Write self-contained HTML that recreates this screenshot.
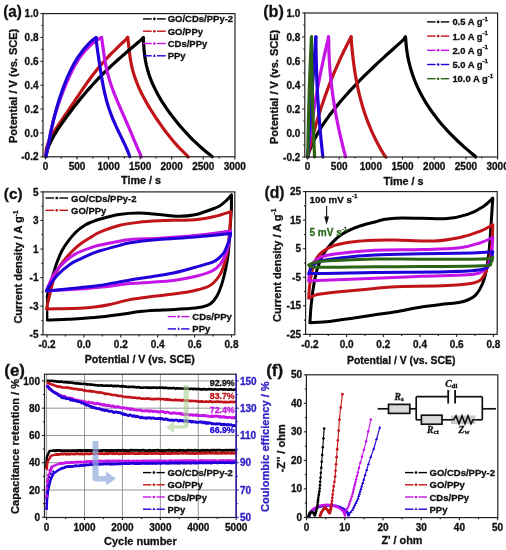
<!DOCTYPE html>
<html><head><meta charset="utf-8"><style>html,body{margin:0;padding:0;background:#fff}svg{display:block;filter:blur(0.35px)}</style></head><body>
<svg width="506" height="550" viewBox="0 0 506 550" font-family="'Liberation Sans', sans-serif" font-weight="bold">
<rect width="506" height="550" fill="#fff"/>
<polyline points="45.9,156.6 45.93,154.17 45.97,151.73 46.3,149.3 46.87,146.87 47.65,144.44 48.62,142 49.74,139.57 50.99,137.14 52.35,134.71 53.79,132.27 55.3,129.84 56.86,127.41 58.46,124.98 60.09,122.54 61.73,120.11 63.39,117.68 65.05,115.24 66.71,112.81 68.36,110.38 70.01,107.95 71.65,105.51 73.29,103.08 74.92,100.65 76.55,98.22 78.18,95.78 79.81,93.35 81.46,90.92 83.12,88.49 84.79,86.05 86.49,83.62 88.22,81.19 89.99,78.76 91.8,76.32 93.65,73.89 95.55,71.46 97.5,69.02 99.52,66.59 101.59,64.16 103.73,61.73 105.93,59.29 108.2,56.86 110.53,54.43 112.93,52 115.38,49.56 117.89,47.13 120.44,44.7 123.03,42.27 125.65,39.83 127.7,37.4" fill="none" stroke="#c01418" stroke-width="3.2" stroke-linejoin="round" stroke-linecap="round" />
<polyline points="127.7,37.4 128.03,39.84 128.32,42.27 128.6,44.71 128.86,47.15 129.13,49.58 129.41,52.02 129.72,54.46 130.05,56.89 130.43,59.33 130.85,61.77 131.33,64.2 131.85,66.64 132.44,69.08 133.08,71.51 133.79,73.95 134.56,76.39 135.39,78.82 136.28,81.26 137.23,83.7 138.24,86.13 139.32,88.57 140.44,91.01 141.62,93.44 142.86,95.88 144.14,98.32 145.47,100.76 146.84,103.19 148.26,105.63 149.72,108.07 151.22,110.5 152.75,112.94 154.32,115.38 155.92,117.81 157.56,120.25 159.24,122.69 160.95,125.12 162.7,127.56 164.49,130 166.32,132.43 168.21,134.87 170.14,137.31 172.14,139.74 174.21,142.18 176.35,144.62 178.58,147.05 180.9,149.49 183.34,151.93 185.9,154.36 188.3,156.8" fill="none" stroke="#c01418" stroke-width="3.2" stroke-linejoin="round" stroke-linecap="round" />
<polyline points="45.9,156.6 46.41,154.17 46.89,151.75 47.56,149.32 48.4,146.89 49.39,144.47 50.5,142.04 51.73,139.61 53.06,137.19 54.47,134.76 55.96,132.33 57.5,129.91 59.1,127.48 60.75,125.06 62.43,122.63 64.16,120.2 65.91,117.78 67.69,115.35 69.5,112.92 71.33,110.5 73.19,108.07 75.08,105.64 76.99,103.22 78.93,100.79 80.89,98.36 82.89,95.94 84.93,93.51 87,91.08 89.11,88.66 91.26,86.23 93.46,83.8 95.7,81.38 97.99,78.95 100.34,76.52 102.73,74.1 105.18,71.67 107.69,69.24 110.24,66.82 112.85,64.39 115.51,61.97 118.21,59.54 120.96,57.11 123.75,54.69 126.56,52.26 129.41,49.83 132.27,47.41 135.13,44.98 137.99,42.55 140.82,40.13 143.4,37.7" fill="none" stroke="#000" stroke-width="3.2" stroke-linejoin="round" stroke-linecap="round" />
<polyline points="143.2,37.5 143.36,39.93 143.51,42.37 143.67,44.8 143.85,47.24 144.05,49.67 144.29,52.11 144.58,54.54 144.91,56.98 145.29,59.41 145.73,61.85 146.22,64.28 146.78,66.72 147.41,69.15 148.1,71.59 148.85,74.02 149.68,76.46 150.57,78.89 151.53,81.32 152.56,83.76 153.66,86.19 154.82,88.63 156.05,91.06 157.34,93.5 158.69,95.93 160.1,98.37 161.57,100.8 163.11,103.24 164.69,105.67 166.34,108.11 168.03,110.54 169.79,112.98 171.59,115.41 173.45,117.84 175.37,120.28 177.34,122.71 179.36,125.15 181.45,127.58 183.59,130.02 185.8,132.45 188.08,134.89 190.42,137.32 192.84,139.76 195.35,142.19 197.94,144.63 200.63,147.06 203.43,149.5 206.34,151.93 209.37,154.37 212.3,156.8" fill="none" stroke="#000" stroke-width="3.2" stroke-linejoin="round" stroke-linecap="round" />
<polyline points="45.9,156.6 46.34,154.17 46.91,151.74 47.44,149.31 47.92,146.89 48.39,144.46 48.84,142.03 49.29,139.6 49.74,137.17 50.21,134.74 50.7,132.31 51.21,129.89 51.75,127.46 52.32,125.03 52.91,122.6 53.54,120.17 54.2,117.74 54.89,115.31 55.61,112.89 56.36,110.46 57.14,108.03 57.94,105.6 58.77,103.17 59.62,100.74 60.5,98.31 61.39,95.89 62.31,93.46 63.25,91.03 64.2,88.6 65.18,86.17 66.18,83.74 67.21,81.31 68.26,78.89 69.35,76.46 70.47,74.03 71.64,71.6 72.86,69.17 74.15,66.74 75.51,64.31 76.95,61.89 78.5,59.46 80.16,57.03 81.96,54.6 83.91,52.17 86.04,49.74 88.37,47.31 90.92,44.89 93.74,42.46 96.84,40.03 101.5,37.6" fill="none" stroke="#c614e6" stroke-width="3.2" stroke-linejoin="round" stroke-linecap="round" />
<polyline points="101.5,37.6 101.91,40.03 102.3,42.47 102.65,44.9 102.98,47.33 103.31,49.76 103.64,52.2 103.98,54.63 104.34,57.06 104.73,59.49 105.14,61.93 105.6,64.36 106.09,66.79 106.62,69.22 107.19,71.66 107.81,74.09 108.48,76.52 109.18,78.96 109.93,81.39 110.73,83.82 111.56,86.25 112.43,88.69 113.33,91.12 114.27,93.55 115.23,95.98 116.22,98.42 117.24,100.85 118.27,103.28 119.31,105.71 120.37,108.15 121.44,110.58 122.51,113.01 123.58,115.44 124.65,117.88 125.72,120.31 126.79,122.74 127.84,125.18 128.89,127.61 129.94,130.04 130.97,132.47 131.99,134.91 133.02,137.34 134.03,139.77 135.05,142.2 136.07,144.64 137.1,147.07 138.14,149.5 139.21,151.93 140.31,154.37 141.3,156.8" fill="none" stroke="#c614e6" stroke-width="3.2" stroke-linejoin="round" stroke-linecap="round" />
<polyline points="45.9,156.6 46.32,154.17 46.87,151.74 47.39,149.31 47.89,146.89 48.38,144.46 48.86,142.03 49.33,139.6 49.81,137.17 50.29,134.74 50.79,132.31 51.29,129.89 51.81,127.46 52.35,125.03 52.9,122.6 53.48,120.17 54.07,117.74 54.68,115.31 55.32,112.89 55.98,110.46 56.66,108.03 57.36,105.6 58.08,103.17 58.83,100.74 59.6,98.31 60.39,95.89 61.21,93.46 62.06,91.03 62.93,88.6 63.83,86.17 64.76,83.74 65.72,81.31 66.72,78.89 67.75,76.46 68.84,74.03 69.97,71.6 71.15,69.17 72.39,66.74 73.7,64.31 75.08,61.89 76.55,59.46 78.11,57.03 79.77,54.6 81.55,52.17 83.45,49.74 85.49,47.31 87.69,44.89 90.06,42.46 92.62,40.03 96,37.6" fill="none" stroke="#1e00d8" stroke-width="3.2" stroke-linejoin="round" stroke-linecap="round" />
<polyline points="96,37.6 96.21,40.03 96.49,42.47 96.79,44.9 97.11,47.33 97.45,49.76 97.8,52.2 98.15,54.63 98.51,57.06 98.87,59.49 99.23,61.93 99.6,64.36 99.97,66.79 100.35,69.22 100.73,71.66 101.11,74.09 101.51,76.52 101.92,78.96 102.35,81.39 102.79,83.82 103.25,86.25 103.74,88.69 104.25,91.12 104.8,93.55 105.38,95.98 105.99,98.42 106.64,100.85 107.34,103.28 108.07,105.71 108.85,108.15 109.67,110.58 110.54,113.01 111.46,115.44 112.41,117.88 113.42,120.31 114.46,122.74 115.54,125.18 116.65,127.61 117.8,130.04 118.96,132.47 120.15,134.91 121.34,137.34 122.53,139.77 123.71,142.2 124.87,144.64 125.99,147.07 127.06,149.5 128.07,151.93 129,154.37 129.8,156.8" fill="none" stroke="#1e00d8" stroke-width="3.2" stroke-linejoin="round" stroke-linecap="round" />
<rect x="43" y="13.6" width="192" height="143.2" fill="none" stroke="#222" stroke-width="1.2"/>
<line x1="45.5" y1="156.8" x2="45.5" y2="159.4" stroke="#222" stroke-width="1.1"/>
<line x1="77.05" y1="156.8" x2="77.05" y2="159.4" stroke="#222" stroke-width="1.1"/>
<line x1="108.6" y1="156.8" x2="108.6" y2="159.4" stroke="#222" stroke-width="1.1"/>
<line x1="140.15" y1="156.8" x2="140.15" y2="159.4" stroke="#222" stroke-width="1.1"/>
<line x1="171.7" y1="156.8" x2="171.7" y2="159.4" stroke="#222" stroke-width="1.1"/>
<line x1="203.25" y1="156.8" x2="203.25" y2="159.4" stroke="#222" stroke-width="1.1"/>
<line x1="234.8" y1="156.8" x2="234.8" y2="159.4" stroke="#222" stroke-width="1.1"/>
<line x1="61.27" y1="156.8" x2="61.27" y2="158.4" stroke="#222" stroke-width="1.1"/>
<line x1="92.83" y1="156.8" x2="92.83" y2="158.4" stroke="#222" stroke-width="1.1"/>
<line x1="124.38" y1="156.8" x2="124.38" y2="158.4" stroke="#222" stroke-width="1.1"/>
<line x1="155.93" y1="156.8" x2="155.93" y2="158.4" stroke="#222" stroke-width="1.1"/>
<line x1="187.47" y1="156.8" x2="187.47" y2="158.4" stroke="#222" stroke-width="1.1"/>
<line x1="219.03" y1="156.8" x2="219.03" y2="158.4" stroke="#222" stroke-width="1.1"/>
<text x="45.5" y="169.8" font-size="10" text-anchor="middle" fill="#111"  stroke="#111" stroke-width="0.3">0</text>
<text x="77.05" y="169.8" font-size="10" text-anchor="middle" fill="#111"  stroke="#111" stroke-width="0.3">500</text>
<text x="108.6" y="169.8" font-size="10" text-anchor="middle" fill="#111"  stroke="#111" stroke-width="0.3">1000</text>
<text x="140.15" y="169.8" font-size="10" text-anchor="middle" fill="#111"  stroke="#111" stroke-width="0.3">1500</text>
<text x="171.7" y="169.8" font-size="10" text-anchor="middle" fill="#111"  stroke="#111" stroke-width="0.3">2000</text>
<text x="203.25" y="169.8" font-size="10" text-anchor="middle" fill="#111"  stroke="#111" stroke-width="0.3">2500</text>
<text x="234.8" y="169.8" font-size="10" text-anchor="middle" fill="#111"  stroke="#111" stroke-width="0.3">3000</text>
<line x1="43" y1="156.8" x2="40.4" y2="156.8" stroke="#222" stroke-width="1.1"/>
<line x1="43" y1="132.93" x2="40.4" y2="132.93" stroke="#222" stroke-width="1.1"/>
<line x1="43" y1="109.07" x2="40.4" y2="109.07" stroke="#222" stroke-width="1.1"/>
<line x1="43" y1="85.2" x2="40.4" y2="85.2" stroke="#222" stroke-width="1.1"/>
<line x1="43" y1="61.33" x2="40.4" y2="61.33" stroke="#222" stroke-width="1.1"/>
<line x1="43" y1="37.47" x2="40.4" y2="37.47" stroke="#222" stroke-width="1.1"/>
<line x1="43" y1="13.6" x2="40.4" y2="13.6" stroke="#222" stroke-width="1.1"/>
<line x1="43" y1="144.87" x2="41.4" y2="144.87" stroke="#222" stroke-width="1.1"/>
<line x1="43" y1="121" x2="41.4" y2="121" stroke="#222" stroke-width="1.1"/>
<line x1="43" y1="97.13" x2="41.4" y2="97.13" stroke="#222" stroke-width="1.1"/>
<line x1="43" y1="73.27" x2="41.4" y2="73.27" stroke="#222" stroke-width="1.1"/>
<line x1="43" y1="49.4" x2="41.4" y2="49.4" stroke="#222" stroke-width="1.1"/>
<line x1="43" y1="25.53" x2="41.4" y2="25.53" stroke="#222" stroke-width="1.1"/>
<text x="38.5" y="160.4" font-size="10" text-anchor="end" fill="#111"  stroke="#111" stroke-width="0.3">-0.2</text>
<text x="38.5" y="136.53" font-size="10" text-anchor="end" fill="#111"  stroke="#111" stroke-width="0.3">0.0</text>
<text x="38.5" y="112.67" font-size="10" text-anchor="end" fill="#111"  stroke="#111" stroke-width="0.3">0.2</text>
<text x="38.5" y="88.8" font-size="10" text-anchor="end" fill="#111"  stroke="#111" stroke-width="0.3">0.4</text>
<text x="38.5" y="64.93" font-size="10" text-anchor="end" fill="#111"  stroke="#111" stroke-width="0.3">0.6</text>
<text x="38.5" y="41.07" font-size="10" text-anchor="end" fill="#111"  stroke="#111" stroke-width="0.3">0.8</text>
<text x="38.5" y="17.2" font-size="10" text-anchor="end" fill="#111"  stroke="#111" stroke-width="0.3">1.0</text>
<text x="141.1" y="183.6" font-size="10.8" text-anchor="middle" fill="#111"  stroke="#111" stroke-width="0.3">Time / s</text>
<text x="16.8" y="85.9" font-size="11" text-anchor="middle" fill="#111" transform="rotate(-90 16.8 85.9)"  stroke="#111" stroke-width="0.3">Potential / V (vs. SCE)</text>
<text x="0" y="0" font-size="16.96" transform="translate(3.14 17.01) scale(0.898 1)" fill="#111" stroke="#111" stroke-width="0.3">(a)</text>
<line x1="143" y1="18.9" x2="151.75" y2="18.9" stroke="#000" stroke-width="1.4"/>
<line x1="156.95" y1="18.9" x2="165.7" y2="18.9" stroke="#000" stroke-width="1.4"/>
<circle cx="154.35" cy="18.9" r="1.3" fill="#000"/>
<text x="167.7" y="22.4" font-size="9.5" text-anchor="start" fill="#111"  stroke="#111" stroke-width="0.3">GO/CDs/PPy-2</text>
<line x1="143" y1="31.2" x2="151.75" y2="31.2" stroke="#c01418" stroke-width="1.4"/>
<line x1="156.95" y1="31.2" x2="165.7" y2="31.2" stroke="#c01418" stroke-width="1.4"/>
<circle cx="154.35" cy="31.2" r="1.3" fill="#c01418"/>
<text x="167.7" y="34.7" font-size="9.5" text-anchor="start" fill="#111"  stroke="#111" stroke-width="0.3">GO/PPy</text>
<line x1="143" y1="43.5" x2="151.75" y2="43.5" stroke="#c614e6" stroke-width="1.4"/>
<line x1="156.95" y1="43.5" x2="165.7" y2="43.5" stroke="#c614e6" stroke-width="1.4"/>
<circle cx="154.35" cy="43.5" r="1.3" fill="#c614e6"/>
<text x="167.7" y="47" font-size="9.5" text-anchor="start" fill="#111"  stroke="#111" stroke-width="0.3">CDs/PPy</text>
<line x1="143" y1="55.8" x2="151.75" y2="55.8" stroke="#1e00d8" stroke-width="1.4"/>
<line x1="156.95" y1="55.8" x2="165.7" y2="55.8" stroke="#1e00d8" stroke-width="1.4"/>
<path d="M154.35,54.1 l1.5,2.6 h-3z" fill="#1e00d8"/>
<text x="167.7" y="59.3" font-size="9.5" text-anchor="start" fill="#111"  stroke="#111" stroke-width="0.3">PPy</text>
<polyline points="307.6,157 308.06,154.97 308.72,152.93 309.43,150.9 310.19,148.86 311.01,146.83 311.88,144.8 312.79,142.76 313.76,140.73 314.77,138.69 315.83,136.66 316.93,134.63 318.08,132.59 319.28,130.56 320.51,128.53 321.79,126.49 323.11,124.46 324.47,122.42 325.87,120.39 327.3,118.36 328.78,116.32 330.28,114.29 331.83,112.25 333.4,110.22 335.01,108.19 336.66,106.15 338.33,104.12 340.03,102.08 341.76,100.05 343.52,98.02 345.31,95.98 347.13,93.95 348.97,91.92 350.83,89.88 352.72,87.85 354.64,85.81 356.58,83.78 358.55,81.75 360.54,79.71 362.55,77.68 364.59,75.64 366.66,73.61 368.74,71.58 370.85,69.54 372.98,67.51 375.13,65.47 377.3,63.44 379.49,61.41 381.7,59.37 383.93,57.34 386.17,55.31 388.41,53.27 390.67,51.24 392.93,49.2 395.19,47.17 397.46,45.14 399.73,43.1 401.99,41.07 404.24,39.03 405.3,37" fill="none" stroke="#000" stroke-width="3.2" stroke-linejoin="round" stroke-linecap="round" />
<polyline points="405.3,37 405.74,39.03 405.86,41.07 406.01,43.1 406.19,45.14 406.4,47.17 406.65,49.2 406.92,51.24 407.23,53.27 407.57,55.31 407.95,57.34 408.36,59.37 408.8,61.41 409.28,63.44 409.79,65.47 410.34,67.51 410.93,69.54 411.55,71.58 412.2,73.61 412.9,75.64 413.63,77.68 414.4,79.71 415.21,81.75 416.06,83.78 416.95,85.81 417.88,87.85 418.85,89.88 419.86,91.92 420.91,93.95 422,95.98 423.13,98.02 424.31,100.05 425.53,102.08 426.79,104.12 428.09,106.15 429.44,108.19 430.84,110.22 432.28,112.25 433.76,114.29 435.3,116.32 436.87,118.36 438.5,120.39 440.17,122.42 441.89,124.46 443.65,126.49 445.47,128.53 447.33,130.56 449.24,132.59 451.21,134.63 453.22,136.66 455.28,138.69 457.4,140.73 459.57,142.76 461.78,144.8 464.05,146.83 466.38,148.86 468.75,150.9 471.18,152.93 473.67,154.97 475.8,157" fill="none" stroke="#000" stroke-width="3.2" stroke-linejoin="round" stroke-linecap="round" />
<polyline points="307.6,157 308.04,154.96 308.52,152.93 309,150.89 309.49,148.85 309.99,146.81 310.5,144.78 311.01,142.74 311.54,140.7 312.07,138.66 312.6,136.63 313.15,134.59 313.7,132.55 314.27,130.52 314.84,128.48 315.42,126.44 316,124.4 316.6,122.37 317.21,120.33 317.82,118.29 318.44,116.25 319.08,114.22 319.72,112.18 320.37,110.14 321.03,108.11 321.7,106.07 322.38,104.03 323.07,101.99 323.77,99.96 324.48,97.92 325.2,95.88 325.94,93.84 326.68,91.81 327.43,89.77 328.19,87.73 328.97,85.69 329.75,83.66 330.55,81.62 331.36,79.58 332.18,77.55 333.01,75.51 333.85,73.47 334.71,71.43 335.57,69.4 336.45,67.36 337.34,65.32 338.24,63.28 339.16,61.25 340.08,59.21 341.02,57.17 341.97,55.14 342.94,53.1 343.92,51.06 344.91,49.02 345.91,46.99 346.93,44.95 347.96,42.91 349,40.87 350.06,38.84 351.2,36.8" fill="none" stroke="#c01418" stroke-width="3.2" stroke-linejoin="round" stroke-linecap="round" />
<polyline points="351.2,36.8 351.17,38.84 351.34,40.87 351.51,42.91 351.68,44.95 351.87,46.99 352.06,49.02 352.26,51.06 352.47,53.1 352.69,55.14 352.92,57.17 353.16,59.21 353.41,61.25 353.67,63.28 353.94,65.32 354.22,67.36 354.51,69.4 354.82,71.43 355.14,73.47 355.48,75.51 355.83,77.55 356.19,79.58 356.57,81.62 356.97,83.66 357.38,85.69 357.8,87.73 358.25,89.77 358.71,91.81 359.19,93.84 359.69,95.88 360.2,97.92 360.74,99.96 361.29,101.99 361.87,104.03 362.46,106.07 363.08,108.11 363.72,110.14 364.38,112.18 365.06,114.22 365.77,116.25 366.5,118.29 367.25,120.33 368.03,122.37 368.83,124.4 369.66,126.44 370.51,128.48 371.39,130.52 372.3,132.55 373.23,134.59 374.19,136.63 375.18,138.66 376.19,140.7 377.24,142.74 378.31,144.78 379.42,146.81 380.55,148.85 381.72,150.89 382.91,152.93 384.14,154.96 385.7,157" fill="none" stroke="#c01418" stroke-width="3.2" stroke-linejoin="round" stroke-linecap="round" />
<polyline points="307.6,157 307.9,154.96 308.11,152.93 308.34,150.89 308.56,148.85 308.8,146.81 309.03,144.78 309.28,142.74 309.52,140.7 309.78,138.66 310.03,136.63 310.3,134.59 310.56,132.55 310.84,130.52 311.11,128.48 311.4,126.44 311.69,124.4 311.98,122.37 312.27,120.33 312.58,118.29 312.88,116.25 313.2,114.22 313.51,112.18 313.84,110.14 314.16,108.11 314.5,106.07 314.83,104.03 315.17,101.99 315.52,99.96 315.87,97.92 316.23,95.88 316.59,93.84 316.96,91.81 317.33,89.77 317.7,87.73 318.08,85.69 318.47,83.66 318.86,81.62 319.26,79.58 319.66,77.55 320.06,75.51 320.47,73.47 320.89,71.43 321.31,69.4 321.73,67.36 322.16,65.32 322.59,63.28 323.03,61.25 323.48,59.21 323.93,57.17 324.38,55.14 324.84,53.1 325.3,51.06 325.77,49.02 326.24,46.99 326.72,44.95 327.2,42.91 327.69,40.87 328.18,38.84 328.5,36.8" fill="none" stroke="#c614e6" stroke-width="3.2" stroke-linejoin="round" stroke-linecap="round" />
<polyline points="328.5,36.8 328.68,38.84 328.7,40.87 328.72,42.91 328.75,44.95 328.8,46.99 328.85,49.02 328.91,51.06 328.99,53.1 329.07,55.14 329.17,57.17 329.27,59.21 329.39,61.25 329.51,63.28 329.65,65.32 329.8,67.36 329.95,69.4 330.12,71.43 330.29,73.47 330.48,75.51 330.68,77.55 330.88,79.58 331.1,81.62 331.32,83.66 331.56,85.69 331.8,87.73 332.06,89.77 332.32,91.81 332.6,93.84 332.88,95.88 333.17,97.92 333.47,99.96 333.79,101.99 334.11,104.03 334.44,106.07 334.78,108.11 335.13,110.14 335.49,112.18 335.86,114.22 336.23,116.25 336.62,118.29 337.02,120.33 337.42,122.37 337.84,124.4 338.26,126.44 338.69,128.48 339.13,130.52 339.58,132.55 340.04,134.59 340.51,136.63 340.99,138.66 341.47,140.7 341.97,142.74 342.47,144.78 342.98,146.81 343.5,148.85 344.03,150.89 344.57,152.93 345.12,154.96 345.5,157" fill="none" stroke="#c614e6" stroke-width="3.2" stroke-linejoin="round" stroke-linecap="round" />
<polyline points="307.8,157 308.05,154.55 308.2,152.09 308.36,149.64 308.51,147.19 308.67,144.73 308.83,142.28 308.98,139.83 309.14,137.38 309.3,134.92 309.46,132.47 309.62,130.02 309.77,127.56 309.93,125.11 310.09,122.66 310.25,120.2 310.41,117.75 310.57,115.3 310.73,112.84 310.89,110.39 311.05,107.94 311.21,105.49 311.37,103.03 311.53,100.58 311.7,98.13 311.86,95.67 312.02,93.22 312.18,90.77 312.34,88.31 312.51,85.86 312.67,83.41 312.83,80.96 313,78.5 313.16,76.05 313.32,73.6 313.49,71.14 313.65,68.69 313.82,66.24 313.98,63.78 314.15,61.33 314.31,58.88 314.48,56.42 314.65,53.97 314.81,51.52 314.98,49.07 315.15,46.61 315.31,44.16 315.48,41.71 315.65,39.25 315.9,36.8" fill="none" stroke="#1e00d8" stroke-width="3.2" stroke-linejoin="round" stroke-linecap="round" />
<polyline points="315.9,36.8 315.89,39.25 315.91,41.71 315.93,44.16 315.96,46.61 316,49.07 316.04,51.52 316.08,53.97 316.13,56.42 316.19,58.88 316.25,61.33 316.31,63.78 316.39,66.24 316.46,68.69 316.55,71.14 316.63,73.6 316.73,76.05 316.83,78.5 316.93,80.96 317.04,83.41 317.16,85.86 317.28,88.31 317.41,90.77 317.54,93.22 317.67,95.67 317.82,98.13 317.97,100.58 318.12,103.03 318.28,105.49 318.44,107.94 318.61,110.39 318.79,112.84 318.97,115.3 319.16,117.75 319.35,120.2 319.55,122.66 319.75,125.11 319.96,127.56 320.17,130.02 320.39,132.47 320.62,134.92 320.85,137.38 321.08,139.83 321.32,142.28 321.57,144.73 321.82,147.19 322.08,149.64 322.34,152.09 322.61,154.55 322.8,157" fill="none" stroke="#1e00d8" stroke-width="3.2" stroke-linejoin="round" stroke-linecap="round" />
<polyline points="307.8,157 307.84,154.55 307.87,152.09 307.91,149.64 307.94,147.19 307.98,144.73 308.02,142.28 308.06,139.83 308.1,137.38 308.15,134.92 308.2,132.47 308.25,130.02 308.3,127.56 308.35,125.11 308.4,122.66 308.46,120.2 308.52,117.75 308.58,115.3 308.64,112.84 308.7,110.39 308.77,107.94 308.84,105.49 308.91,103.03 308.98,100.58 309.05,98.13 309.13,95.67 309.2,93.22 309.28,90.77 309.36,88.31 309.45,85.86 309.53,83.41 309.62,80.96 309.71,78.5 309.8,76.05 309.89,73.6 309.98,71.14 310.08,68.69 310.17,66.24 310.27,63.78 310.38,61.33 310.48,58.88 310.58,56.42 310.69,53.97 310.8,51.52 310.91,49.07 311.02,46.61 311.14,44.16 311.26,41.71 311.37,39.25 311.5,36.8" fill="none" stroke="#2a6414" stroke-width="3.2" stroke-linejoin="round" stroke-linecap="round" />
<polyline points="311.5,36.8 311.48,39.25 311.5,41.71 311.52,44.16 311.55,46.61 311.57,49.07 311.6,51.52 311.63,53.97 311.66,56.42 311.69,58.88 311.73,61.33 311.76,63.78 311.8,66.24 311.84,68.69 311.88,71.14 311.93,73.6 311.98,76.05 312.02,78.5 312.07,80.96 312.13,83.41 312.18,85.86 312.24,88.31 312.29,90.77 312.35,93.22 312.42,95.67 312.48,98.13 312.54,100.58 312.61,103.03 312.68,105.49 312.75,107.94 312.82,110.39 312.9,112.84 312.98,115.3 313.06,117.75 313.14,120.2 313.22,122.66 313.3,125.11 313.39,127.56 313.48,130.02 313.57,132.47 313.66,134.92 313.76,137.38 313.85,139.83 313.95,142.28 314.05,144.73 314.15,147.19 314.25,149.64 314.36,152.09 314.47,154.55 314.5,157" fill="none" stroke="#2a6414" stroke-width="3.2" stroke-linejoin="round" stroke-linecap="round" />
<rect x="304.8" y="13" width="192.8" height="144" fill="none" stroke="#222" stroke-width="1.2"/>
<line x1="307.5" y1="157" x2="307.5" y2="159.6" stroke="#222" stroke-width="1.1"/>
<line x1="339.18" y1="157" x2="339.18" y2="159.6" stroke="#222" stroke-width="1.1"/>
<line x1="370.87" y1="157" x2="370.87" y2="159.6" stroke="#222" stroke-width="1.1"/>
<line x1="402.55" y1="157" x2="402.55" y2="159.6" stroke="#222" stroke-width="1.1"/>
<line x1="434.23" y1="157" x2="434.23" y2="159.6" stroke="#222" stroke-width="1.1"/>
<line x1="465.92" y1="157" x2="465.92" y2="159.6" stroke="#222" stroke-width="1.1"/>
<line x1="497.6" y1="157" x2="497.6" y2="159.6" stroke="#222" stroke-width="1.1"/>
<line x1="323.34" y1="157" x2="323.34" y2="158.6" stroke="#222" stroke-width="1.1"/>
<line x1="355.03" y1="157" x2="355.03" y2="158.6" stroke="#222" stroke-width="1.1"/>
<line x1="386.71" y1="157" x2="386.71" y2="158.6" stroke="#222" stroke-width="1.1"/>
<line x1="418.39" y1="157" x2="418.39" y2="158.6" stroke="#222" stroke-width="1.1"/>
<line x1="450.08" y1="157" x2="450.08" y2="158.6" stroke="#222" stroke-width="1.1"/>
<line x1="481.76" y1="157" x2="481.76" y2="158.6" stroke="#222" stroke-width="1.1"/>
<text x="307.5" y="170" font-size="10" text-anchor="middle" fill="#111"  stroke="#111" stroke-width="0.3">0</text>
<text x="339.18" y="170" font-size="10" text-anchor="middle" fill="#111"  stroke="#111" stroke-width="0.3">500</text>
<text x="370.87" y="170" font-size="10" text-anchor="middle" fill="#111"  stroke="#111" stroke-width="0.3">1000</text>
<text x="402.55" y="170" font-size="10" text-anchor="middle" fill="#111"  stroke="#111" stroke-width="0.3">1500</text>
<text x="434.23" y="170" font-size="10" text-anchor="middle" fill="#111"  stroke="#111" stroke-width="0.3">2000</text>
<text x="465.92" y="170" font-size="10" text-anchor="middle" fill="#111"  stroke="#111" stroke-width="0.3">2500</text>
<text x="497.6" y="170" font-size="10" text-anchor="middle" fill="#111"  stroke="#111" stroke-width="0.3">3000</text>
<line x1="304.8" y1="157" x2="302.2" y2="157" stroke="#222" stroke-width="1.1"/>
<line x1="304.8" y1="133" x2="302.2" y2="133" stroke="#222" stroke-width="1.1"/>
<line x1="304.8" y1="109" x2="302.2" y2="109" stroke="#222" stroke-width="1.1"/>
<line x1="304.8" y1="85" x2="302.2" y2="85" stroke="#222" stroke-width="1.1"/>
<line x1="304.8" y1="61" x2="302.2" y2="61" stroke="#222" stroke-width="1.1"/>
<line x1="304.8" y1="37" x2="302.2" y2="37" stroke="#222" stroke-width="1.1"/>
<line x1="304.8" y1="13" x2="302.2" y2="13" stroke="#222" stroke-width="1.1"/>
<line x1="304.8" y1="145" x2="303.2" y2="145" stroke="#222" stroke-width="1.1"/>
<line x1="304.8" y1="121" x2="303.2" y2="121" stroke="#222" stroke-width="1.1"/>
<line x1="304.8" y1="97" x2="303.2" y2="97" stroke="#222" stroke-width="1.1"/>
<line x1="304.8" y1="73" x2="303.2" y2="73" stroke="#222" stroke-width="1.1"/>
<line x1="304.8" y1="49" x2="303.2" y2="49" stroke="#222" stroke-width="1.1"/>
<line x1="304.8" y1="25" x2="303.2" y2="25" stroke="#222" stroke-width="1.1"/>
<text x="300.3" y="160.6" font-size="10" text-anchor="end" fill="#111"  stroke="#111" stroke-width="0.3">-0.2</text>
<text x="300.3" y="136.6" font-size="10" text-anchor="end" fill="#111"  stroke="#111" stroke-width="0.3">0.0</text>
<text x="300.3" y="112.6" font-size="10" text-anchor="end" fill="#111"  stroke="#111" stroke-width="0.3">0.2</text>
<text x="300.3" y="88.6" font-size="10" text-anchor="end" fill="#111"  stroke="#111" stroke-width="0.3">0.4</text>
<text x="300.3" y="64.6" font-size="10" text-anchor="end" fill="#111"  stroke="#111" stroke-width="0.3">0.6</text>
<text x="300.3" y="40.6" font-size="10" text-anchor="end" fill="#111"  stroke="#111" stroke-width="0.3">0.8</text>
<text x="300.3" y="16.6" font-size="10" text-anchor="end" fill="#111"  stroke="#111" stroke-width="0.3">1.0</text>
<text x="403.5" y="184.9" font-size="10.8" text-anchor="middle" fill="#111"  stroke="#111" stroke-width="0.3">Time / s</text>
<text x="277.6" y="86.9" font-size="11" text-anchor="middle" fill="#111" transform="rotate(-90 277.6 86.9)"  stroke="#111" stroke-width="0.3">Potential / V (vs. SCE)</text>
<text x="0" y="0" font-size="16.52" transform="translate(263.19 16.5) scale(0.981 1)" fill="#111" stroke="#111" stroke-width="0.3">(b)</text>
<line x1="427.1" y1="21.9" x2="435.55" y2="21.9" stroke="#000" stroke-width="1.4"/>
<line x1="440.75" y1="21.9" x2="449.2" y2="21.9" stroke="#000" stroke-width="1.4"/>
<circle cx="438.15" cy="21.9" r="1.3" fill="#000"/>
<text x="452.4" y="25.3" font-size="9.4" fill="#111" stroke="#111" stroke-width="0.3">0.5 A g<tspan font-size="6.2" dy="-4.5">-1</tspan></text>
<line x1="427.1" y1="36.1" x2="435.55" y2="36.1" stroke="#c01418" stroke-width="1.4"/>
<line x1="440.75" y1="36.1" x2="449.2" y2="36.1" stroke="#c01418" stroke-width="1.4"/>
<circle cx="438.15" cy="36.1" r="1.3" fill="#c01418"/>
<text x="452.4" y="39.5" font-size="9.4" fill="#111" stroke="#111" stroke-width="0.3">1.0 A g<tspan font-size="6.2" dy="-4.5">-1</tspan></text>
<line x1="427.1" y1="50.3" x2="435.55" y2="50.3" stroke="#c614e6" stroke-width="1.4"/>
<line x1="440.75" y1="50.3" x2="449.2" y2="50.3" stroke="#c614e6" stroke-width="1.4"/>
<circle cx="438.15" cy="50.3" r="1.3" fill="#c614e6"/>
<text x="452.4" y="53.7" font-size="9.4" fill="#111" stroke="#111" stroke-width="0.3">2.0 A g<tspan font-size="6.2" dy="-4.5">-1</tspan></text>
<line x1="427.1" y1="64.5" x2="435.55" y2="64.5" stroke="#1e00d8" stroke-width="1.4"/>
<line x1="440.75" y1="64.5" x2="449.2" y2="64.5" stroke="#1e00d8" stroke-width="1.4"/>
<circle cx="438.15" cy="64.5" r="1.3" fill="#1e00d8"/>
<text x="452.4" y="67.9" font-size="9.4" fill="#111" stroke="#111" stroke-width="0.3">5.0 A g<tspan font-size="6.2" dy="-4.5">-1</tspan></text>
<line x1="427.1" y1="78.7" x2="435.55" y2="78.7" stroke="#2a6414" stroke-width="1.4"/>
<line x1="440.75" y1="78.7" x2="449.2" y2="78.7" stroke="#2a6414" stroke-width="1.4"/>
<circle cx="438.15" cy="78.7" r="1.3" fill="#2a6414"/>
<text x="452.4" y="82.1" font-size="9.4" fill="#111" stroke="#111" stroke-width="0.3">10.0 A g<tspan font-size="6.2" dy="-4.5">-1</tspan></text>
<path d="M47.2,320 L47.2,297" fill="none" stroke="#000" stroke-width="2.4" stroke-linejoin="round" stroke-linecap="round" stroke-dasharray="1.7 1.3"/>
<path d="M47.2,297 C47.43,295.83 47.93,292.67 48.6,290 C49.27,287.33 50.25,284.23 51.2,281 C52.15,277.77 53.27,273.88 54.3,270.6 C55.33,267.32 56.1,264.65 57.4,261.3 C58.7,257.95 60.3,253.85 62.1,250.5 C63.9,247.15 65.88,244.28 68.2,241.2 C70.52,238.12 73.17,234.7 76,232 C78.83,229.3 82.53,226.68 85.2,225 C87.87,223.32 89.65,222.85 92,221.9 C94.35,220.95 94.8,220.53 99.3,219.3 C103.8,218.07 112.42,215.55 119,214.5 C125.58,213.45 132.2,213 138.8,213 C145.4,213 152.02,213.95 158.6,214.5 C165.18,215.05 172.23,216.25 178.3,216.3 C184.37,216.35 189.75,215.85 195,214.8 C200.25,213.75 205.7,211.47 209.8,210 C213.9,208.53 216.73,207.7 219.6,206 C222.47,204.3 225.03,201.65 227,199.8 C228.97,197.95 230.67,195.72 231.4,194.9 L231.4,209.7 C231.28,211.33 231.03,214.58 230.7,219.5 C230.37,224.42 229.82,233.47 229.4,239.2 C228.98,244.93 228.82,248.98 228.2,253.9 C227.58,258.82 226.73,263.78 225.7,268.7 C224.67,273.62 223.43,278.9 222,283.4 C220.57,287.9 219.13,292.22 217.1,295.7 C215.07,299.18 212.65,302.37 209.8,304.3 C206.95,306.23 203.38,306.58 200,307.3 C196.62,308.02 195.78,308.15 189.5,308.6 C183.22,309.05 170.55,309.52 162.3,310 C154.05,310.48 146.77,310.78 140,311.5 C133.23,312.22 129.28,313.28 121.7,314.3 C114.12,315.32 103.62,316.77 94.5,317.6 C85.38,318.43 74.83,318.9 67,319.3 C59.17,319.7 50.75,319.88 47.5,320" fill="none" stroke="#000" stroke-width="3.0" stroke-linejoin="round" stroke-linecap="round" />
<path d="M231.4,194.9 L231.4,209.7" fill="none" stroke="#000" stroke-width="2.4" stroke-linejoin="round" stroke-linecap="round" stroke-dasharray="1.7 1.3"/>
<path d="M46.5,309 C46.75,307.83 47.47,304.3 48,302 C48.53,299.7 49.07,297.87 49.7,295.2 C50.33,292.53 51.03,288.95 51.8,286 C52.57,283.05 53.27,280.25 54.3,277.5 C55.33,274.75 56.7,271.95 58,269.5 C59.3,267.05 59.62,265.97 62.1,262.8 C64.58,259.63 69.57,253.83 72.9,250.5 C76.23,247.17 78.92,245.12 82.1,242.8 C85.28,240.48 89.13,238.35 92,236.6 C94.87,234.85 94.8,234.15 99.3,232.3 C103.8,230.45 112.42,227.17 119,225.5 C125.58,223.83 132.2,223.08 138.8,222.3 C145.4,221.52 152.02,221.15 158.6,220.8 C165.18,220.45 172.23,220.38 178.3,220.2 C184.37,220.02 188.93,220.32 195,219.7 C201.07,219.08 208.72,217.83 214.7,216.5 C220.68,215.17 228.2,212.5 230.9,211.7 L230.9,211.7 C230.8,213.42 230.55,218.23 230.3,222 C230.05,225.77 229.87,229.63 229.4,234.3 C228.93,238.97 228.32,245.13 227.5,250 C226.68,254.87 225.83,259.25 224.5,263.5 C223.17,267.75 221.92,271.83 219.5,275.5 C217.08,279.17 214.08,283 210,285.5 C205.92,288 201.08,289.07 195,290.5 C188.92,291.93 180.72,293.1 173.5,294.1 C166.28,295.1 158.95,295.58 151.7,296.5 C144.45,297.42 136.95,298.27 130,299.6 C123.05,300.93 115.92,303.27 110,304.5 C104.08,305.73 99.58,306.38 94.5,307 C89.42,307.62 85.95,307.9 79.5,308.2 C73.05,308.5 61.3,308.67 55.8,308.8 C50.3,308.93 48.05,308.97 46.5,309" fill="none" stroke="#c01418" stroke-width="3.0" stroke-linejoin="round" stroke-linecap="round" />
<path d="M46.5,291 C46.83,290.08 47.2,288.4 48.5,285.5 C49.8,282.6 51.53,277.63 54.3,273.6 C57.07,269.57 61.48,264.63 65.1,261.3 C68.72,257.97 71.52,255.92 76,253.6 C80.48,251.28 88.12,248.78 92,247.4 C95.88,246.02 94.8,246.32 99.3,245.3 C103.8,244.28 113.88,242.28 119,241.3 C124.12,240.32 123.4,239.92 130,239.4 C136.6,238.88 147.77,238.85 158.6,238.2 C169.43,237.55 182.98,236.7 195,235.5 C207.02,234.3 224.75,231.75 230.7,231 L230.7,231 C230.52,232.17 230.02,235.4 229.6,238 C229.18,240.6 228.97,243.6 228.2,246.6 C227.43,249.6 226.37,253.02 225,256 C223.63,258.98 222.17,262 220,264.5 C217.83,267 216.17,269 212,271 C207.83,273 201.42,274.93 195,276.5 C188.58,278.07 180.72,279.45 173.5,280.4 C166.28,281.35 158.95,281.67 151.7,282.2 C144.45,282.73 138.73,282.75 130,283.6 C121.27,284.45 109.03,286.3 99.3,287.3 C89.57,288.3 80.4,288.98 71.6,289.6 C62.8,290.22 50.68,290.77 46.5,291" fill="none" stroke="#c614e6" stroke-width="3.0" stroke-linejoin="round" stroke-linecap="round" />
<path d="M46.5,291 C46.78,290.42 46.38,290.13 48.2,287.5 C50.02,284.87 53.8,279.05 57.4,275.2 C61,271.35 65.68,267.23 69.8,264.4 C73.92,261.57 78.4,260 82.1,258.2 C85.8,256.4 89.13,254.8 92,253.6 C94.87,252.4 94.8,252.33 99.3,251 C103.8,249.67 113.88,246.97 119,245.6 C124.12,244.23 123.4,243.8 130,242.8 C136.6,241.8 147.77,240.57 158.6,239.6 C169.43,238.63 182.98,238.02 195,237 C207.02,235.98 224.75,234.08 230.7,233.5 L230.7,233.5 C230.48,234.45 230.02,237.12 229.4,239.2 C228.78,241.28 227.9,243.78 227,246 C226.1,248.22 225.33,250.5 224,252.5 C222.67,254.5 220.8,256.45 219,258 C217.2,259.55 217.17,260.25 213.2,261.8 C209.23,263.35 201.82,265.43 195.2,267.3 C188.58,269.17 180.75,271.43 173.5,273 C166.25,274.57 158.95,275.53 151.7,276.7 C144.45,277.87 138.73,278.53 130,280 C121.27,281.47 107.72,284.22 99.3,285.5 C90.88,286.78 88.3,286.78 79.5,287.7 C70.7,288.62 52,290.45 46.5,291" fill="none" stroke="#1e00d8" stroke-width="3.0" stroke-linejoin="round" stroke-linecap="round" />
<rect x="43" y="191.9" width="191.8" height="142.9" fill="none" stroke="#222" stroke-width="1.2"/>
<line x1="47" y1="334.8" x2="47" y2="337.4" stroke="#222" stroke-width="1.1"/>
<line x1="83.9" y1="334.8" x2="83.9" y2="337.4" stroke="#222" stroke-width="1.1"/>
<line x1="120.8" y1="334.8" x2="120.8" y2="337.4" stroke="#222" stroke-width="1.1"/>
<line x1="157.7" y1="334.8" x2="157.7" y2="337.4" stroke="#222" stroke-width="1.1"/>
<line x1="194.6" y1="334.8" x2="194.6" y2="337.4" stroke="#222" stroke-width="1.1"/>
<line x1="231.5" y1="334.8" x2="231.5" y2="337.4" stroke="#222" stroke-width="1.1"/>
<line x1="65.45" y1="334.8" x2="65.45" y2="336.4" stroke="#222" stroke-width="1.1"/>
<line x1="102.35" y1="334.8" x2="102.35" y2="336.4" stroke="#222" stroke-width="1.1"/>
<line x1="139.25" y1="334.8" x2="139.25" y2="336.4" stroke="#222" stroke-width="1.1"/>
<line x1="176.15" y1="334.8" x2="176.15" y2="336.4" stroke="#222" stroke-width="1.1"/>
<line x1="213.05" y1="334.8" x2="213.05" y2="336.4" stroke="#222" stroke-width="1.1"/>
<text x="47" y="347.5" font-size="10" text-anchor="middle" fill="#111"  stroke="#111" stroke-width="0.3">-0.2</text>
<text x="83.9" y="347.5" font-size="10" text-anchor="middle" fill="#111"  stroke="#111" stroke-width="0.3">0.0</text>
<text x="120.8" y="347.5" font-size="10" text-anchor="middle" fill="#111"  stroke="#111" stroke-width="0.3">0.2</text>
<text x="157.7" y="347.5" font-size="10" text-anchor="middle" fill="#111"  stroke="#111" stroke-width="0.3">0.4</text>
<text x="194.6" y="347.5" font-size="10" text-anchor="middle" fill="#111"  stroke="#111" stroke-width="0.3">0.6</text>
<text x="231.5" y="347.5" font-size="10" text-anchor="middle" fill="#111"  stroke="#111" stroke-width="0.3">0.8</text>
<line x1="43" y1="334.8" x2="40.4" y2="334.8" stroke="#222" stroke-width="1.1"/>
<line x1="43" y1="306.22" x2="40.4" y2="306.22" stroke="#222" stroke-width="1.1"/>
<line x1="43" y1="277.64" x2="40.4" y2="277.64" stroke="#222" stroke-width="1.1"/>
<line x1="43" y1="249.06" x2="40.4" y2="249.06" stroke="#222" stroke-width="1.1"/>
<line x1="43" y1="220.48" x2="40.4" y2="220.48" stroke="#222" stroke-width="1.1"/>
<line x1="43" y1="191.9" x2="40.4" y2="191.9" stroke="#222" stroke-width="1.1"/>
<line x1="43" y1="320.51" x2="41.4" y2="320.51" stroke="#222" stroke-width="1.1"/>
<line x1="43" y1="291.93" x2="41.4" y2="291.93" stroke="#222" stroke-width="1.1"/>
<line x1="43" y1="263.35" x2="41.4" y2="263.35" stroke="#222" stroke-width="1.1"/>
<line x1="43" y1="234.77" x2="41.4" y2="234.77" stroke="#222" stroke-width="1.1"/>
<line x1="43" y1="206.19" x2="41.4" y2="206.19" stroke="#222" stroke-width="1.1"/>
<text x="38.5" y="338.4" font-size="10" text-anchor="end" fill="#111"  stroke="#111" stroke-width="0.3">-5</text>
<text x="38.5" y="309.82" font-size="10" text-anchor="end" fill="#111"  stroke="#111" stroke-width="0.3">-3</text>
<text x="38.5" y="281.24" font-size="10" text-anchor="end" fill="#111"  stroke="#111" stroke-width="0.3">-1</text>
<text x="38.5" y="252.66" font-size="10" text-anchor="end" fill="#111"  stroke="#111" stroke-width="0.3">1</text>
<text x="38.5" y="224.08" font-size="10" text-anchor="end" fill="#111"  stroke="#111" stroke-width="0.3">3</text>
<text x="38.5" y="195.5" font-size="10" text-anchor="end" fill="#111"  stroke="#111" stroke-width="0.3">5</text>
<text x="139.75" y="362.6" font-size="10.6" text-anchor="middle" fill="#111"  stroke="#111" stroke-width="0.3">Potential / V (vs. SCE)</text>
<text font-size="11" text-anchor="start" fill="#111" transform="translate(22.1 323.6) rotate(-90)" stroke="#111" stroke-width="0.3">Current density / A g<tspan font-size="6.5" dy="-4.6">-1</tspan></text>
<text x="0" y="0" font-size="15.22" transform="translate(3.84 199.06) scale(1.001 1)" fill="#111" stroke="#111" stroke-width="0.3">(c)</text>
<line x1="45.5" y1="198" x2="54.15" y2="198" stroke="#000" stroke-width="1.4"/>
<line x1="59.35" y1="198" x2="68" y2="198" stroke="#000" stroke-width="1.4"/>
<circle cx="56.75" cy="198" r="1.3" fill="#000"/>
<text x="71" y="201.5" font-size="9.5" text-anchor="start" fill="#111"  stroke="#111" stroke-width="0.3">GO/CDs/PPy-2</text>
<line x1="45.5" y1="210.3" x2="54.15" y2="210.3" stroke="#c01418" stroke-width="1.4"/>
<line x1="59.35" y1="210.3" x2="68" y2="210.3" stroke="#c01418" stroke-width="1.4"/>
<circle cx="56.75" cy="210.3" r="1.3" fill="#c01418"/>
<text x="71" y="213.8" font-size="9.5" text-anchor="start" fill="#111"  stroke="#111" stroke-width="0.3">GO/PPy</text>
<line x1="167.7" y1="316.6" x2="176" y2="316.6" stroke="#c614e6" stroke-width="1.4"/>
<line x1="181.2" y1="316.6" x2="189.5" y2="316.6" stroke="#c614e6" stroke-width="1.4"/>
<circle cx="178.6" cy="316.6" r="1.3" fill="#c614e6"/>
<text x="192.3" y="320.1" font-size="9.5" text-anchor="start" fill="#111"  stroke="#111" stroke-width="0.3">CDs/PPy</text>
<line x1="167.7" y1="328.9" x2="176" y2="328.9" stroke="#1e00d8" stroke-width="1.4"/>
<line x1="181.2" y1="328.9" x2="189.5" y2="328.9" stroke="#1e00d8" stroke-width="1.4"/>
<path d="M178.6,327.2 l1.5,2.6 h-3z" fill="#1e00d8"/>
<text x="192.3" y="332.4" font-size="9.5" text-anchor="start" fill="#111"  stroke="#111" stroke-width="0.3">PPy</text>
<path d="M309.9,322.8 C310.1,319.93 310.48,311.75 311.1,305.6 C311.72,299.45 312.57,292.05 313.6,285.9 C314.63,279.75 315.67,274.02 317.3,268.7 C318.93,263.38 320.95,258.3 323.4,254 C325.85,249.7 328.92,246.18 332,242.9 C335.08,239.62 338.22,236.75 341.9,234.3 C345.58,231.85 350.02,229.92 354.1,228.2 C358.18,226.48 362.92,225.03 366.4,224 C369.88,222.97 372.27,222.72 375,222 C377.73,221.28 379.35,220.33 382.8,219.7 C386.25,219.07 389.27,218.43 395.7,218.2 C402.13,217.97 412.83,218.23 421.4,218.3 C429.97,218.37 439.4,219.25 447.1,218.6 C454.8,217.95 461.62,216.38 467.6,214.4 C473.58,212.42 478.8,209.4 483,206.7 C487.2,204 491.17,199.62 492.8,198.2 L492.8,198.2 C492.55,201.97 491.85,212.75 491.3,220.8 C490.75,228.85 490.23,238.78 489.5,246.5 C488.77,254.22 487.98,261.1 486.9,267.1 C485.82,273.1 484.93,277.8 483,282.5 C481.07,287.2 478.72,292.08 475.3,295.3 C471.88,298.52 467.2,300.38 462.5,301.8 C457.8,303.22 453.95,302.95 447.1,303.8 C440.25,304.65 429.97,305.57 421.4,306.9 C412.83,308.23 403.43,310.48 395.7,311.8 C387.97,313.12 381.93,313.78 375,314.8 C368.07,315.82 361.67,316.78 354.1,317.9 C346.53,319.02 336.97,320.68 329.6,321.5 C322.23,322.32 313.18,322.58 309.9,322.8" fill="none" stroke="#000" stroke-width="3.0" stroke-linejoin="round" stroke-linecap="round" />
<path d="M308.7,298.2 C308.83,296.33 309.1,290.68 309.5,287 C309.9,283.32 310.22,280.38 311.1,276.1 C311.98,271.82 312.95,265.32 314.8,261.3 C316.65,257.28 318.92,254.65 322.2,252 C325.48,249.35 329.18,247.12 334.5,245.4 C339.82,243.68 347.35,242.55 354.1,241.7 C360.85,240.85 368.07,240.57 375,240.3 C381.93,240.03 385.83,239.98 395.7,240.1 C405.57,240.22 423.5,241.43 434.2,241 C444.9,240.57 452.18,239.15 459.9,237.5 C467.62,235.85 475.02,233.23 480.5,231.1 C485.98,228.97 490.75,225.77 492.8,224.7 L492.8,224.7 C492.67,227.48 492.55,235.62 492,241.4 C491.45,247.18 490.78,253.83 489.5,259.4 C488.22,264.97 486.67,270.95 484.3,274.8 C481.93,278.65 481.5,280.7 475.3,282.5 C469.1,284.3 460.37,284.88 447.1,285.6 C433.83,286.32 407.72,286.33 395.7,286.8 C383.68,287.27 383.97,287.62 375,288.4 C366.03,289.18 351.52,290.48 341.9,291.5 C332.28,292.52 322.83,293.38 317.3,294.5 C311.77,295.62 310.13,297.58 308.7,298.2" fill="none" stroke="#c01418" stroke-width="3.0" stroke-linejoin="round" stroke-linecap="round" />
<path d="M308.7,281 C308.92,279.17 309.38,272.87 310,270 C310.62,267.13 310.78,265.85 312.4,263.8 C314.02,261.75 316.02,259.33 319.7,257.7 C323.38,256.07 325.28,255.23 334.5,254 C343.72,252.77 360.52,251.03 375,250.3 C389.48,249.57 407.25,250.02 421.4,249.6 C435.55,249.18 450.05,248.95 459.9,247.8 C469.75,246.65 475.02,244.42 480.5,242.7 C485.98,240.98 490.75,238.37 492.8,237.5 L492.8,237.5 C492.67,239.58 492.33,246.35 492,250 C491.67,253.65 492.3,255.92 490.8,259.4 C489.3,262.88 486.87,268.33 483,270.9 C479.13,273.47 477.87,273.9 467.6,274.8 C457.33,275.7 436.83,275.72 421.4,276.3 C405.97,276.88 392.35,277.6 375,278.3 C357.65,279 328.35,280.05 317.3,280.5 C306.25,280.95 310.13,280.92 308.7,281" fill="none" stroke="#c614e6" stroke-width="3.0" stroke-linejoin="round" stroke-linecap="round" />
<path d="M308.7,273.6 C309.32,272.38 310.57,268.35 312.4,266.3 C314.23,264.25 314.78,262.73 319.7,261.3 C324.62,259.87 332.68,258.77 341.9,257.7 C351.12,256.63 361.75,255.57 375,254.9 C388.25,254.23 405.1,254.03 421.4,253.7 C437.7,253.37 460.9,253.23 472.8,252.9 C484.7,252.57 489.47,251.9 492.8,251.7 L492.8,251.7 C492.25,253.83 491.55,261.5 489.5,264.5 C487.45,267.5 487.57,268.5 480.5,269.7 C473.43,270.9 464.68,271.25 447.1,271.7 C429.52,272.15 395.4,272.12 375,272.4 C354.6,272.68 335.75,273.2 324.7,273.4 C313.65,273.6 311.37,273.57 308.7,273.6" fill="none" stroke="#1e00d8" stroke-width="3.0" stroke-linejoin="round" stroke-linecap="round" />
<path d="M308.7,265 C309.72,264.6 311.32,263.3 314.8,262.6 C318.28,261.9 319.57,261.38 329.6,260.8 C339.63,260.22 359.7,259.37 375,259.1 C390.3,258.83 403.4,259.23 421.4,259.2 C439.4,259.17 471.1,259.22 483,258.9 C494.9,258.58 491.17,257.57 492.8,257.3 L492.8,257.3 C492.47,258.28 492.43,261.78 490.8,263.2 C489.17,264.62 494.57,265.23 483,265.8 C471.43,266.37 439.4,266.45 421.4,266.6 C403.4,266.75 392.35,266.58 375,266.7 C357.65,266.82 328.35,267.58 317.3,267.3 C306.25,267.02 310.13,265.38 308.7,265" fill="none" stroke="#2a6414" stroke-width="3.0" stroke-linejoin="round" stroke-linecap="round" />
<rect x="305.6" y="191.6" width="191.6" height="142.8" fill="none" stroke="#222" stroke-width="1.2"/>
<line x1="309.9" y1="334.4" x2="309.9" y2="337" stroke="#222" stroke-width="1.1"/>
<line x1="346.6" y1="334.4" x2="346.6" y2="337" stroke="#222" stroke-width="1.1"/>
<line x1="383.3" y1="334.4" x2="383.3" y2="337" stroke="#222" stroke-width="1.1"/>
<line x1="420" y1="334.4" x2="420" y2="337" stroke="#222" stroke-width="1.1"/>
<line x1="456.7" y1="334.4" x2="456.7" y2="337" stroke="#222" stroke-width="1.1"/>
<line x1="493.4" y1="334.4" x2="493.4" y2="337" stroke="#222" stroke-width="1.1"/>
<line x1="328.25" y1="334.4" x2="328.25" y2="336" stroke="#222" stroke-width="1.1"/>
<line x1="364.95" y1="334.4" x2="364.95" y2="336" stroke="#222" stroke-width="1.1"/>
<line x1="401.65" y1="334.4" x2="401.65" y2="336" stroke="#222" stroke-width="1.1"/>
<line x1="438.35" y1="334.4" x2="438.35" y2="336" stroke="#222" stroke-width="1.1"/>
<line x1="475.05" y1="334.4" x2="475.05" y2="336" stroke="#222" stroke-width="1.1"/>
<text x="309.9" y="347.5" font-size="10" text-anchor="middle" fill="#111"  stroke="#111" stroke-width="0.3">-0.2</text>
<text x="346.6" y="347.5" font-size="10" text-anchor="middle" fill="#111"  stroke="#111" stroke-width="0.3">0.0</text>
<text x="383.3" y="347.5" font-size="10" text-anchor="middle" fill="#111"  stroke="#111" stroke-width="0.3">0.2</text>
<text x="420" y="347.5" font-size="10" text-anchor="middle" fill="#111"  stroke="#111" stroke-width="0.3">0.4</text>
<text x="456.7" y="347.5" font-size="10" text-anchor="middle" fill="#111"  stroke="#111" stroke-width="0.3">0.6</text>
<text x="493.4" y="347.5" font-size="10" text-anchor="middle" fill="#111"  stroke="#111" stroke-width="0.3">0.8</text>
<line x1="305.6" y1="334.4" x2="303" y2="334.4" stroke="#222" stroke-width="1.1"/>
<line x1="305.6" y1="305.84" x2="303" y2="305.84" stroke="#222" stroke-width="1.1"/>
<line x1="305.6" y1="277.28" x2="303" y2="277.28" stroke="#222" stroke-width="1.1"/>
<line x1="305.6" y1="248.72" x2="303" y2="248.72" stroke="#222" stroke-width="1.1"/>
<line x1="305.6" y1="220.16" x2="303" y2="220.16" stroke="#222" stroke-width="1.1"/>
<line x1="305.6" y1="191.6" x2="303" y2="191.6" stroke="#222" stroke-width="1.1"/>
<line x1="305.6" y1="320.12" x2="304" y2="320.12" stroke="#222" stroke-width="1.1"/>
<line x1="305.6" y1="291.56" x2="304" y2="291.56" stroke="#222" stroke-width="1.1"/>
<line x1="305.6" y1="263" x2="304" y2="263" stroke="#222" stroke-width="1.1"/>
<line x1="305.6" y1="234.44" x2="304" y2="234.44" stroke="#222" stroke-width="1.1"/>
<line x1="305.6" y1="205.88" x2="304" y2="205.88" stroke="#222" stroke-width="1.1"/>
<text x="301" y="338" font-size="10" text-anchor="end" fill="#111"  stroke="#111" stroke-width="0.3">-25</text>
<text x="301" y="309.44" font-size="10" text-anchor="end" fill="#111"  stroke="#111" stroke-width="0.3">-15</text>
<text x="301" y="280.88" font-size="10" text-anchor="end" fill="#111"  stroke="#111" stroke-width="0.3">-5</text>
<text x="301" y="252.32" font-size="10" text-anchor="end" fill="#111"  stroke="#111" stroke-width="0.3">5</text>
<text x="301" y="223.76" font-size="10" text-anchor="end" fill="#111"  stroke="#111" stroke-width="0.3">15</text>
<text x="301" y="195.2" font-size="10" text-anchor="end" fill="#111"  stroke="#111" stroke-width="0.3">25</text>
<text x="401.2" y="363.6" font-size="10.45" text-anchor="middle" fill="#111"  stroke="#111" stroke-width="0.3">Potential / V (vs. SCE)</text>
<text font-size="11" text-anchor="start" fill="#111" transform="translate(280.9 321.9) rotate(-90)" stroke="#111" stroke-width="0.3">Current density / A g<tspan font-size="6.5" dy="-4.6">-1</tspan></text>
<text x="0" y="0" font-size="16.52" transform="translate(264.42 198.2) scale(0.950 1)" fill="#111" stroke="#111" stroke-width="0.3">(d)</text>
<text x="309.5" y="202.6" font-size="9.8" fill="#111" stroke="#111" stroke-width="0.3">100 mV s<tspan font-size="6.2" dy="-5">-1</tspan></text>
<text x="309.5" y="235.6" font-size="10" fill="#2f6a1e" stroke="#2f6a1e" stroke-width="0.3">5 mV s<tspan font-size="6.2" dy="-5">-1</tspan></text>
<line x1="326.6" y1="206" x2="326.6" y2="218" stroke="#111" stroke-width="1.1"/>
<path d="M324.2,216.5 L329,216.5 L326.6,224.8 z" fill="#111"/>
<line x1="46.6" y1="374.2" x2="46.6" y2="517.5" stroke="#8a8a8a" stroke-width="0.9"/>
<line x1="84.52" y1="374.2" x2="84.52" y2="517.5" stroke="#8a8a8a" stroke-width="0.9"/>
<line x1="122.44" y1="374.2" x2="122.44" y2="517.5" stroke="#8a8a8a" stroke-width="0.9"/>
<line x1="160.36" y1="374.2" x2="160.36" y2="517.5" stroke="#8a8a8a" stroke-width="0.9"/>
<line x1="198.28" y1="374.2" x2="198.28" y2="517.5" stroke="#8a8a8a" stroke-width="0.9"/>
<line x1="236.2" y1="374.2" x2="236.2" y2="517.5" stroke="#8a8a8a" stroke-width="0.9"/>
<line x1="44.5" y1="490.02" x2="236.2" y2="490.02" stroke="#8a8a8a" stroke-width="0.9"/>
<line x1="44.5" y1="462.74" x2="236.2" y2="462.74" stroke="#8a8a8a" stroke-width="0.9"/>
<line x1="44.5" y1="435.46" x2="236.2" y2="435.46" stroke="#8a8a8a" stroke-width="0.9"/>
<line x1="44.5" y1="408.18" x2="236.2" y2="408.18" stroke="#8a8a8a" stroke-width="0.9"/>
<line x1="44.5" y1="380.9" x2="236.2" y2="380.9" stroke="#8a8a8a" stroke-width="0.9"/>
<polyline points="46.8,380.44 47.8,380.71 48.8,380.69 49.8,380.91 50.8,381.01 51.8,380.76 52.8,380.81 53.8,381.39 54.8,381.12 55.8,381.19 56.8,381.73 57.8,381.5 58.8,381.8 59.8,381.67 60.8,381.85 61.8,381.64 62.8,382.01 63.8,382.24 64.8,382.11 65.8,382.33 66.8,382.37 67.8,382.1 68.8,382.61 69.8,382.61 70.8,382.54 71.8,382.47 72.8,383.07 73.8,382.94 74.8,383.18 75.8,383.38 76.8,383.38 77.8,383.6 78.8,383.38 79.8,383.73 80.8,383.61 81.8,384.01 82.8,384.07 83.8,383.7 84.8,383.82 85.8,383.97 86.8,384.52 87.8,384.3 88.8,384.51 89.8,384.42 90.8,384.64 91.8,384.66 92.8,384.74 93.8,384.98 94.8,385.06 95.8,385.3 96.8,385.22 97.8,385.42 98.8,385.42 99.8,385.55 100.8,385.4 101.8,385.15 102.8,385.61 103.8,385.72 104.8,385.74 105.8,385.58 106.8,385.72 107.8,385.46 108.8,385.88 109.8,385.78 110.8,385.65 111.8,385.56 112.8,386.09 113.8,386.22 114.8,385.72 115.8,386.2 116.8,386.01 117.8,385.9 118.8,386.04 119.8,386.37 120.8,386.48 121.8,386.03 122.8,386.44 123.8,386.16 124.8,386.63 125.8,386.47 126.8,386.86 127.8,386.99 128.8,386.77 129.8,387.13 130.8,386.78 131.8,386.71 132.8,387.09 133.8,386.81 134.8,386.98 135.8,387.17 136.8,387.36 137.8,387.15 138.8,387.15 139.8,387.71 140.8,387.4 141.8,387.79 142.8,387.77 143.8,387.46 144.8,387.52 145.8,387.57 146.8,387.65 147.8,387.64 148.8,387.62 149.8,387.67 150.8,387.87 151.8,387.62 152.8,387.59 153.8,387.77 154.8,387.49 155.8,387.54 156.8,387.95 157.8,387.69 158.8,387.72 159.8,387.4 160.8,387.68 161.8,387.82 162.8,387.52 163.8,387.92 164.8,387.97 165.8,387.67 166.8,388.05 167.8,387.99 168.8,388.16 169.8,388 170.8,388.26 171.8,388.31 172.8,387.93 173.8,387.99 174.8,388.4 175.8,388.61 176.8,388.22 177.8,388.39 178.8,388.51 179.8,388.38 180.8,388.45 181.8,388.45 182.8,388.52 183.8,388.69 184.8,388.55 185.8,388.63 186.8,388.9 187.8,388.49 188.8,388.85 189.8,388.98 190.8,388.76 191.8,388.75 192.8,389.13 193.8,388.83 194.8,388.83 195.8,389.01 196.8,389.21 197.8,388.88 198.8,389.05 199.8,389.09 200.8,389.41 201.8,389.18 202.8,389.44 203.8,389.04 204.8,389.16 205.8,389.35 206.8,389.51 207.8,389.26 208.8,389.13 209.8,389.08 210.8,389.34 211.8,389.15 212.8,389.53 213.8,389.56 214.8,389.17 215.8,389.24 216.8,389.57 217.8,389.48 218.8,389.59 219.8,389.33 220.8,389.21 221.8,389.32 222.8,389.63 223.8,389.33 224.8,389.38 225.8,389.44 226.8,389.45 227.8,389.45 228.8,389.77 229.8,389.32 230.8,389.25 231.8,389.82 232.8,389.79 233.8,389.87 234.8,389.55 235.8,389.87 236,389.6" fill="none" stroke="#000" stroke-width="2.6" stroke-linejoin="round"/>
<polyline points="46.8,382.64 47.8,382.5 48.8,383.34 49.8,383.83 50.8,384.11 51.8,384.42 52.8,384.66 53.8,385.12 54.8,385.45 55.8,385.74 56.8,386.44 57.8,386.32 58.8,386.87 59.8,386.39 60.8,387.2 61.8,387.16 62.8,387.47 63.8,387.58 64.8,387.71 65.8,387.58 66.8,387.26 67.8,387.99 68.8,387.68 69.8,387.93 70.8,388.37 71.8,388.41 72.8,388.47 73.8,389.04 74.8,388.93 75.8,388.86 76.8,388.94 77.8,389.58 78.8,389.42 79.8,389.82 80.8,389.62 81.8,389.65 82.8,390.07 83.8,390.45 84.8,390.08 85.8,390.73 86.8,390.98 87.8,391.04 88.8,391.2 89.8,390.7 90.8,391.35 91.8,391.68 92.8,391.18 93.8,391.51 94.8,391.67 95.8,392.04 96.8,392.13 97.8,392.34 98.8,392.75 99.8,392.3 100.8,392.51 101.8,392.74 102.8,392.9 103.8,393.03 104.8,393.92 105.8,393.99 106.8,393.55 107.8,394.05 108.8,394.07 109.8,394.24 110.8,394.44 111.8,394.84 112.8,394.96 113.8,394.95 114.8,394.99 115.8,395.27 116.8,395.27 117.8,395.78 118.8,396.08 119.8,395.98 120.8,395.91 121.8,396.15 122.8,396.41 123.8,396.7 124.8,396.95 125.8,396.73 126.8,397.17 127.8,397.13 128.8,397.08 129.8,397.14 130.8,397.34 131.8,397.61 132.8,397.49 133.8,397.81 134.8,397.73 135.8,397.66 136.8,398 137.8,398.23 138.8,397.83 139.8,398.22 140.8,398.28 141.8,398.68 142.8,398.78 143.8,398.37 144.8,398.83 145.8,398.79 146.8,398.42 147.8,398.62 148.8,398.39 149.8,398.99 150.8,398.92 151.8,399.14 152.8,399.11 153.8,399.06 154.8,399.15 155.8,399.06 156.8,398.74 157.8,399.17 158.8,398.75 159.8,398.91 160.8,399.46 161.8,398.93 162.8,399.01 163.8,399.07 164.8,399.74 165.8,399.23 166.8,399.16 167.8,399.86 168.8,399.34 169.8,399.97 170.8,399.88 171.8,400.06 172.8,400.2 173.8,399.95 174.8,400.18 175.8,399.62 176.8,400.25 177.8,400.1 178.8,400.31 179.8,399.88 180.8,400.45 181.8,400.66 182.8,400.03 183.8,400.31 184.8,400.56 185.8,400.84 186.8,400.44 187.8,400.45 188.8,400.57 189.8,400.93 190.8,401.1 191.8,400.88 192.8,400.93 193.8,401.01 194.8,401.04 195.8,401.16 196.8,400.96 197.8,401.36 198.8,401.8 199.8,401.42 200.8,401.71 201.8,401.26 202.8,401.71 203.8,401.78 204.8,401.73 205.8,401.63 206.8,401.62 207.8,401.77 208.8,401.99 209.8,401.41 210.8,401.39 211.8,401.93 212.8,402.08 213.8,401.78 214.8,401.74 215.8,401.98 216.8,401.58 217.8,401.66 218.8,401.62 219.8,401.95 220.8,401.76 221.8,401.71 222.8,402.1 223.8,402.33 224.8,401.82 225.8,402.17 226.8,401.95 227.8,402.32 228.8,402.13 229.8,401.89 230.8,401.87 231.8,401.74 232.8,402.12 233.8,402.06 234.8,401.91 235.8,402.08 236,402.2" fill="none" stroke="#c01418" stroke-width="2.6" stroke-linejoin="round"/>
<polyline points="46.8,384.79 47.8,386.58 48.8,387.07 49.8,389.34 50.8,389.6 51.8,390.52 52.8,391.14 53.8,392.3 54.8,392.79 55.8,392.97 56.8,393.38 57.8,394.16 58.8,394.83 59.8,394.78 60.8,395.68 61.8,396.45 62.8,396.14 63.8,396.14 64.8,396.43 65.8,397.29 66.8,397.52 67.8,398.15 68.8,398.3 69.8,397.85 70.8,398.07 71.8,398.44 72.8,398.63 73.8,399.54 74.8,400.01 75.8,400.34 76.8,399.85 77.8,400.86 78.8,400.48 79.8,400.9 80.8,401.55 81.8,400.94 82.8,401.1 83.8,402.14 84.8,401.64 85.8,401.87 86.8,402.29 87.8,402.55 88.8,401.9 89.8,402.44 90.8,402.72 91.8,402.93 92.8,402.75 93.8,403.35 94.8,403.94 95.8,403.42 96.8,403.75 97.8,403.39 98.8,403.73 99.8,404.35 100.8,403.83 101.8,404.91 102.8,405.09 103.8,404.27 104.8,405.43 105.8,404.9 106.8,405.53 107.8,405.66 108.8,405.27 109.8,405.88 110.8,406.02 111.8,406.36 112.8,405.87 113.8,406.62 114.8,407.02 115.8,406.84 116.8,406.83 117.8,406.49 118.8,407.1 119.8,407.09 120.8,407.69 121.8,407.8 122.8,407.83 123.8,407.53 124.8,408.24 125.8,408.39 126.8,408 127.8,409.02 128.8,408.9 129.8,408.42 130.8,409.55 131.8,408.76 132.8,409.15 133.8,409.77 134.8,409.79 135.8,409.89 136.8,410.17 137.8,410.1 138.8,410.08 139.8,410.08 140.8,410.03 141.8,410.88 142.8,410.99 143.8,410.8 144.8,411.1 145.8,410.71 146.8,410.66 147.8,410.87 148.8,411.52 149.8,410.59 150.8,411.21 151.8,410.96 152.8,411.65 153.8,411.22 154.8,411.26 155.8,411.41 156.8,411.64 157.8,411.98 158.8,411.55 159.8,412.2 160.8,411.41 161.8,411.7 162.8,411.6 163.8,411.72 164.8,412.61 165.8,412.65 166.8,412.1 167.8,412.21 168.8,412.58 169.8,413.07 170.8,413.26 171.8,413.28 172.8,413.19 173.8,412.76 174.8,413.16 175.8,413.01 176.8,413.51 177.8,413.66 178.8,413.32 179.8,413.48 180.8,414.21 181.8,413.39 182.8,414.4 183.8,414.59 184.8,414.75 185.8,414.15 186.8,414.44 187.8,414.56 188.8,414.71 189.8,415.21 190.8,414.94 191.8,414.56 192.8,415.32 193.8,414.95 194.8,415.18 195.8,415.42 196.8,414.63 197.8,415.64 198.8,415.59 199.8,415.47 200.8,415.58 201.8,415.56 202.8,415.3 203.8,415.76 204.8,415.22 205.8,415.84 206.8,416.07 207.8,415.89 208.8,416.09 209.8,416.62 210.8,416.6 211.8,415.75 212.8,416.6 213.8,416.45 214.8,415.82 215.8,416.25 216.8,416.16 217.8,416.03 218.8,416.64 219.8,417.17 220.8,416.5 221.8,417.22 222.8,417.06 223.8,416.45 224.8,417.38 225.8,417.13 226.8,417.58 227.8,417.38 228.8,417.47 229.8,417.05 230.8,417.66 231.8,417.87 232.8,417.85 233.8,417.4 234.8,417.84 235.8,417.57 236,417.6" fill="none" stroke="#c614e6" stroke-width="2.8" stroke-linejoin="round"/>
<polyline points="46.8,385.83 47.8,386.75 48.8,387.79 49.8,388.94 50.8,389.6 51.8,390.65 52.8,391.53 53.8,391.98 54.8,392.5 55.8,393.43 56.8,393.67 57.8,394.52 58.8,395.53 59.8,395.76 60.8,396.16 61.8,397.68 62.8,397.75 63.8,397.62 64.8,397.91 65.8,398.39 66.8,398.76 67.8,398.6 68.8,398.62 69.8,399.15 70.8,400.13 71.8,399.65 72.8,400.32 73.8,400.29 74.8,400.59 75.8,400.84 76.8,401.4 77.8,401.41 78.8,401.53 79.8,401.92 80.8,402.27 81.8,403.05 82.8,402.93 83.8,403.28 84.8,404.19 85.8,404.53 86.8,405.29 87.8,404.9 88.8,405.72 89.8,406.11 90.8,406.06 91.8,407.59 92.8,407.09 93.8,407.34 94.8,408.13 95.8,407.96 96.8,408.71 97.8,408.58 98.8,408.52 99.8,408.63 100.8,409.65 101.8,409.31 102.8,410.12 103.8,409.94 104.8,410.7 105.8,410.15 106.8,410.29 107.8,410.51 108.8,411.37 109.8,411.35 110.8,411.21 111.8,411.11 112.8,412.02 113.8,412.57 114.8,412.32 115.8,411.81 116.8,412.05 117.8,412.32 118.8,412.62 119.8,412.66 120.8,412.88 121.8,413.81 122.8,414.3 123.8,413.67 124.8,414.8 125.8,414.4 126.8,415 127.8,415.33 128.8,415.56 129.8,414.68 130.8,415.21 131.8,415.77 132.8,416.38 133.8,415.55 134.8,416 135.8,416.87 136.8,416.19 137.8,416.72 138.8,416.86 139.8,417.48 140.8,417.87 141.8,417.04 142.8,417.78 143.8,417.85 144.8,418.04 145.8,417.77 146.8,418.28 147.8,417.68 148.8,417.81 149.8,417.66 150.8,418.39 151.8,418.1 152.8,417.92 153.8,417.87 154.8,418.6 155.8,418.53 156.8,418.73 157.8,418.41 158.8,418.6 159.8,418.27 160.8,419.04 161.8,418.32 162.8,418.95 163.8,419.41 164.8,419.42 165.8,418.83 166.8,419.1 167.8,419.93 168.8,419.79 169.8,420.18 170.8,420.28 171.8,419.88 172.8,420.52 173.8,420.43 174.8,420.05 175.8,420.2 176.8,419.95 177.8,420.45 178.8,421.22 179.8,420.3 180.8,420.94 181.8,420.47 182.8,420.51 183.8,421.26 184.8,420.85 185.8,420.69 186.8,420.89 187.8,421.56 188.8,421.56 189.8,420.95 190.8,421.29 191.8,422.25 192.8,421.42 193.8,421.91 194.8,421.81 195.8,422.32 196.8,422.19 197.8,422.48 198.8,422.25 199.8,421.91 200.8,421.99 201.8,421.96 202.8,422.95 203.8,422.18 204.8,422.17 205.8,423.39 206.8,422.56 207.8,423.49 208.8,422.61 209.8,423.16 210.8,422.96 211.8,423.78 212.8,423.61 213.8,423.74 214.8,423.97 215.8,424.19 216.8,423.66 217.8,424.06 218.8,423.96 219.8,423.65 220.8,424.61 221.8,424.41 222.8,424.77 223.8,424.13 224.8,424.62 225.8,424.62 226.8,425.03 227.8,424.34 228.8,424.76 229.8,425.01 230.8,424.61 231.8,425.28 232.8,425.59 233.8,425.31 234.8,425.67 235.8,425.71 236,425.6" fill="none" stroke="#1e00d8" stroke-width="2.8" stroke-linejoin="round"/>
<polyline points="46.2,468 46.8,457.2 49.5,451 53,450.6" fill="none" stroke="#000" stroke-width="2.4" stroke-linejoin="round"/>
<polyline points="53,450.46 54,450.52 55,450.84 56,450.51 57,450.56 58,450.38 59,450.45 60,450.42 61,450.8 62,450.7 63,450.77 64,450.83 65,450.64 66,450.79 67,450.59 68,450.53 69,450.8 70,450.77 71,450.8 72,450.56 73,450.7 74,450.52 75,450.81 76,450.77 77,450.46 78,450.78 79,450.4 80,450.35 81,450.67 82,450.45 83,450.56 84,450.62 85,450.32 86,450.67 87,450.43 88,450.51 89,450.46 90,450.66 91,450.66 92,450.43 93,450.34 94,450.43 95,450.49 96,450.32 97,450.35 98,450.66 99,450.62 100,450.76 101,450.76 102,450.71 103,450.45 104,450.35 105,450.42 106,450.49 107,450.52 108,450.53 109,450.44 110,450.68 111,450.4 112,450.48 113,450.7 114,450.65 115,450.4 116,450.37 117,450.65 118,450.25 119,450.31 120,450.51 121,450.51 122,450.32 123,450.26 124,450.34 125,450.62 126,450.46 127,450.72 128,450.62 129,450.72 130,450.24 131,450.31 132,450.23 133,450.44 134,450.39 135,450.24 136,450.49 137,450.26 138,450.37 139,450.33 140,450.61 141,450.41 142,450.33 143,450.22 144,450.42 145,450.51 146,450.54 147,450.65 148,450.6 149,450.32 150,450.26 151,450.57 152,450.58 153,450.44 154,450.6 155,450.46 156,450.32 157,450.26 158,450.19 159,450.5 160,450.62 161,450.63 162,450.41 163,450.5 164,450.63 165,450.57 166,450.47 167,450.37 168,450.42 169,450.25 170,450.25 171,450.5 172,450.65 173,450.43 174,450.36 175,450.33 176,450.38 177,450.55 178,450.37 179,450.62 180,450.22 181,450.3 182,450.4 183,450.34 184,450.56 185,450.55 186,450.6 187,450.44 188,450.14 189,450.41 190,450.4 191,450.37 192,450.26 193,450.48 194,450.57 195,450.17 196,450.45 197,450.3 198,450.37 199,450.56 200,450.59 201,450.43 202,450.2 203,450.56 204,450.19 205,450.29 206,450.51 207,450.26 208,450.23 209,450.57 210,450.56 211,450.25 212,450.29 213,450.23 214,450.15 215,450.21 216,450.57 217,450.12 218,450.19 219,450.18 220,450.12 221,450.34 222,450.44 223,450.49 224,450.39 225,450.48 226,450.07 227,450.21 228,450.54 229,450.1 230,450.19 231,450.3 232,450.19 233,450.33 234,450.08 235,450.17 236,450.53 236,450.3" fill="none" stroke="#000" stroke-width="2.8" stroke-linejoin="round"/>
<polyline points="46.6,470 47.5,462 50.9,455.8 55,454.6" fill="none" stroke="#c01418" stroke-width="2.4" stroke-linejoin="round"/>
<polyline points="55,454.42 56,454.71 57,454.24 58,454.55 59,454.3 60,454.26 61,453.99 62,453.93 63,454.27 64,453.97 65,453.96 66,454.26 67,454.27 68,453.84 69,454.29 70,454.06 71,453.97 72,453.81 73,453.94 74,454.23 75,453.86 76,453.77 77,453.76 78,453.74 79,453.83 80,454.1 81,453.67 82,453.71 83,454.07 84,454.08 85,454.06 86,453.68 87,453.72 88,454 89,453.75 90,453.85 91,453.64 92,453.48 93,453.63 94,453.81 95,453.81 96,453.69 97,453.63 98,453.65 99,453.59 100,453.62 101,453.76 102,453.44 103,453.64 104,453.8 105,453.76 106,453.42 107,453.81 108,453.75 109,453.41 110,453.45 111,453.42 112,453.34 113,453.8 114,453.51 115,453.74 116,453.36 117,453.31 118,453.73 119,453.69 120,453.79 121,453.63 122,453.55 123,453.67 124,453.33 125,453.55 126,453.49 127,453.34 128,453.57 129,453.43 130,453.51 131,453.45 132,453.41 133,453.43 134,453.55 135,453.74 136,453.71 137,453.67 138,453.66 139,453.38 140,453.72 141,453.36 142,453.29 143,453.47 144,453.59 145,453.39 146,453.54 147,453.35 148,453.69 149,453.43 150,453.44 151,453.47 152,453.63 153,453.69 154,453.46 155,453.41 156,453.49 157,453.22 158,453.39 159,453.6 160,453.56 161,453.2 162,453.59 163,453.36 164,453.65 165,453.34 166,453.26 167,453.43 168,453.59 169,453.36 170,453.58 171,453.5 172,453.32 173,453.29 174,453.39 175,453.33 176,453.31 177,453.45 178,453.56 179,453.41 180,453.19 181,453.22 182,453.29 183,453.41 184,453.17 185,453.14 186,453.26 187,453.24 188,453.11 189,453.36 190,453.55 191,453.35 192,453.45 193,453.49 194,453.49 195,453.53 196,453.29 197,453.41 198,453.12 199,453.5 200,453.25 201,453.29 202,453.5 203,453.19 204,453.14 205,453.45 206,453.34 207,453.08 208,453.05 209,453.21 210,453.03 211,453.44 212,453.11 213,453.15 214,453.21 215,453.27 216,453.22 217,453.32 218,453.33 219,453.22 220,453.05 221,453.48 222,453.34 223,453.03 224,453.21 225,453.36 226,453.48 227,453.01 228,452.98 229,453.21 230,453.18 231,453.41 232,453.38 233,453.12 234,453.17 235,453.24 236,453.39 236,453.2" fill="none" stroke="#c01418" stroke-width="2.8" stroke-linejoin="round"/>
<polyline points="46.6,500 47.2,488 48.2,479 50,472 52.3,466.7 58,464" fill="none" stroke="#c614e6" stroke-width="2.4" stroke-linejoin="round"/>
<polyline points="58,463.82 59,463.78 60,463.45 61,463.63 62,463.11 63,463.5 64,463.1 65,462.98 66,462.53 67,462.47 68,462.55 69,462.74 70,462.5 71,462.31 72,462.68 73,462.45 74,462.33 75,462.09 76,462.1 77,462.42 78,461.92 79,462.12 80,462.13 81,461.92 82,462.13 83,462.17 84,462.1 85,461.98 86,461.62 87,461.49 88,461.67 89,461.56 90,461.44 91,461.81 92,461.37 93,461.69 94,461.72 95,461.19 96,461.62 97,461.27 98,461.11 99,461.05 100,460.92 101,461.19 102,461.12 103,461.4 104,461.38 105,460.91 106,461.11 107,461.1 108,460.97 109,461.01 110,461.01 111,461.27 112,461.05 113,460.91 114,460.97 115,461.1 116,461.17 117,460.97 118,461.24 119,460.95 120,461.21 121,461.17 122,460.91 123,461.25 124,461.03 125,461.11 126,461.14 127,461.16 128,461.04 129,460.81 130,461.24 131,461.28 132,461.05 133,461.1 134,460.91 135,461.28 136,461.15 137,460.87 138,461.22 139,461.32 140,460.93 141,461.32 142,461 143,460.82 144,461.14 145,460.9 146,461.14 147,461.04 148,460.75 149,461 150,461.19 151,460.96 152,460.99 153,461.18 154,460.93 155,460.95 156,461 157,461.14 158,460.77 159,460.7 160,461.09 161,460.96 162,460.81 163,461.16 164,461.15 165,460.94 166,461.2 167,461.11 168,461.05 169,460.77 170,460.6 171,460.99 172,461.02 173,460.79 174,460.86 175,460.91 176,460.71 177,460.98 178,460.89 179,460.78 180,460.61 181,460.88 182,460.73 183,460.97 184,460.63 185,460.76 186,460.64 187,460.76 188,460.86 189,460.57 190,460.54 191,460.79 192,460.62 193,460.79 194,460.59 195,460.54 196,460.8 197,461.03 198,460.99 199,460.77 200,460.7 201,460.49 202,460.62 203,460.63 204,461.01 205,460.51 206,461 207,460.71 208,460.68 209,460.58 210,460.99 211,460.52 212,460.75 213,460.71 214,460.52 215,460.53 216,460.98 217,460.86 218,460.82 219,460.92 220,460.43 221,460.79 222,460.81 223,460.49 224,460.63 225,460.93 226,460.54 227,460.8 228,460.43 229,460.73 230,460.49 231,460.63 232,460.54 233,460.84 234,460.76 235,460.61 236,460.71 236,460.6" fill="none" stroke="#c614e6" stroke-width="2.8" stroke-linejoin="round"/>
<polyline points="46.6,510 47,500 48.2,489.9 50.5,480 53.6,473.5 60,469" fill="none" stroke="#1e00d8" stroke-width="2.4" stroke-linejoin="round"/>
<polyline points="60,468.96 61,468.86 62,468.22 63,468.07 64,467.77 65,467.34 66,466.81 67,466.57 68,466.71 69,466.37 70,466.61 71,466.37 72,466.55 73,466.4 74,466.24 75,465.94 76,465.65 77,465.87 78,465.9 79,465.92 80,465.4 81,465.28 82,465.69 83,465.45 84,465.21 85,465.28 86,464.84 87,464.99 88,464.97 89,464.85 90,464.49 91,464.39 92,464.59 93,464.66 94,464.13 95,463.99 96,464.02 97,464.42 98,464.17 99,464.18 100,464.49 101,464.24 102,464.01 103,464.25 104,463.81 105,463.96 106,464.19 107,463.86 108,463.75 109,464.02 110,463.89 111,464.26 112,463.71 113,464.12 114,463.85 115,464.08 116,463.84 117,463.96 118,463.73 119,463.65 120,463.77 121,463.96 122,463.66 123,463.57 124,463.67 125,463.45 126,463.57 127,463.7 128,463.66 129,463.68 130,463.47 131,463.29 132,463.27 133,463.44 134,463.34 135,463.54 136,463.34 137,463.62 138,463.5 139,463.52 140,463.54 141,463.4 142,463.34 143,463.26 144,463.1 145,463.53 146,463.35 147,463.1 148,463.59 149,463.37 150,463.39 151,463.27 152,463.08 153,463.59 154,463.08 155,463.19 156,463.57 157,463.03 158,463.25 159,463.23 160,463.08 161,463.48 162,463.17 163,462.92 164,463.18 165,462.89 166,463.31 167,463.4 168,463.41 169,462.89 170,463.26 171,463.02 172,463.12 173,463.01 174,463 175,462.89 176,463.18 177,462.84 178,463.36 179,462.8 180,463.35 181,462.87 182,462.8 183,463.19 184,463.05 185,463.19 186,463.02 187,463.09 188,462.75 189,463.1 190,462.99 191,463.25 192,462.67 193,462.7 194,463.06 195,463.2 196,462.89 197,463.05 198,462.95 199,462.84 200,462.88 201,462.95 202,462.6 203,462.76 204,463.01 205,462.71 206,462.83 207,462.7 208,462.75 209,462.92 210,462.96 211,463.08 212,462.79 213,462.61 214,462.69 215,462.51 216,462.61 217,462.81 218,462.82 219,462.59 220,462.54 221,462.48 222,462.52 223,462.71 224,462.55 225,462.92 226,462.72 227,462.58 228,462.63 229,462.38 230,462.79 231,462.79 232,462.55 233,462.76 234,462.48 235,462.44 236,462.44 236,462.6" fill="none" stroke="#1e00d8" stroke-width="2.8" stroke-linejoin="round"/>
<path d="M46.6,506.2 l1.6,2.8 h-3.2z" fill="#1e00d8"/>
<path d="M46.6,501.2 l1.6,2.8 h-3.2z" fill="#1e00d8"/>
<path d="M46.8,495.2 l1.6,2.8 h-3.2z" fill="#1e00d8"/>
<path d="M47.1,490.2 l1.6,2.8 h-3.2z" fill="#1e00d8"/>
<path d="M47.6,484.2 l1.6,2.8 h-3.2z" fill="#1e00d8"/>
<path d="M48.4,479.2 l1.6,2.8 h-3.2z" fill="#1e00d8"/>
<path d="M49.6,475.2 l1.6,2.8 h-3.2z" fill="#1e00d8"/>
<path d="M51.2,472.2 l1.6,2.8 h-3.2z" fill="#1e00d8"/>
<path d="M53.2,469.7 l1.6,2.8 h-3.2z" fill="#1e00d8"/>
<circle cx="46.6" cy="496" r="1.5" fill="#c614e6"/>
<circle cx="47" cy="488" r="1.5" fill="#c614e6"/>
<circle cx="47.5" cy="481" r="1.5" fill="#c614e6"/>
<circle cx="48.5" cy="475" r="1.5" fill="#c614e6"/>
<circle cx="49.8" cy="470" r="1.5" fill="#c614e6"/>
<circle cx="51.5" cy="467" r="1.5" fill="#c614e6"/>
<path d="M183.6,385 L188.8,385 L188.8,424 Q188.8,428.5 184,428.5 L174,428.5 L174,433 L166,427.2 L174,421.3 L174,425.2 L183.6,425.2 Z" fill="#a8d08d" fill-opacity="0.6"/>
<path d="M92.5,441 L98.5,441 L98.5,476 L106,476 L106,471.5 L116,478.5 L106,485.5 L106,481.5 L96,481.5 Q92.5,481.5 92.5,478 Z" fill="#8faadc" fill-opacity="0.7"/>
<text x="234.7" y="386.3" font-size="8.8" text-anchor="end" fill="#111"  stroke="#111" stroke-width="0.3">92.9%</text>
<text x="234.7" y="398.9" font-size="8.8" text-anchor="end" fill="#c01418"  stroke="#c01418" stroke-width="0.3">83.7%</text>
<text x="234.7" y="413" font-size="8.8" text-anchor="end" fill="#c614e6"  stroke="#c614e6" stroke-width="0.3">72.4%</text>
<text x="234.7" y="432.7" font-size="8.8" text-anchor="end" fill="#1e00d8"  stroke="#1e00d8" stroke-width="0.3">66.9%</text>
<rect x="44.5" y="374.2" width="191.7" height="143.3" fill="none" stroke="#222" stroke-width="1.2"/>
<line x1="46.6" y1="517.5" x2="46.6" y2="520.1" stroke="#222" stroke-width="1.1"/>
<line x1="84.52" y1="517.5" x2="84.52" y2="520.1" stroke="#222" stroke-width="1.1"/>
<line x1="122.44" y1="517.5" x2="122.44" y2="520.1" stroke="#222" stroke-width="1.1"/>
<line x1="160.36" y1="517.5" x2="160.36" y2="520.1" stroke="#222" stroke-width="1.1"/>
<line x1="198.28" y1="517.5" x2="198.28" y2="520.1" stroke="#222" stroke-width="1.1"/>
<line x1="236.2" y1="517.5" x2="236.2" y2="520.1" stroke="#222" stroke-width="1.1"/>
<line x1="65.56" y1="517.5" x2="65.56" y2="519.1" stroke="#222" stroke-width="1.1"/>
<line x1="103.48" y1="517.5" x2="103.48" y2="519.1" stroke="#222" stroke-width="1.1"/>
<line x1="141.4" y1="517.5" x2="141.4" y2="519.1" stroke="#222" stroke-width="1.1"/>
<line x1="179.32" y1="517.5" x2="179.32" y2="519.1" stroke="#222" stroke-width="1.1"/>
<line x1="217.24" y1="517.5" x2="217.24" y2="519.1" stroke="#222" stroke-width="1.1"/>
<text x="46.6" y="530.5" font-size="10" text-anchor="middle" fill="#111"  stroke="#111" stroke-width="0.3">0</text>
<text x="84.52" y="530.5" font-size="10" text-anchor="middle" fill="#111"  stroke="#111" stroke-width="0.3">1000</text>
<text x="122.44" y="530.5" font-size="10" text-anchor="middle" fill="#111"  stroke="#111" stroke-width="0.3">2000</text>
<text x="160.36" y="530.5" font-size="10" text-anchor="middle" fill="#111"  stroke="#111" stroke-width="0.3">3000</text>
<text x="198.28" y="530.5" font-size="10" text-anchor="middle" fill="#111"  stroke="#111" stroke-width="0.3">4000</text>
<text x="236.2" y="530.5" font-size="10" text-anchor="middle" fill="#111"  stroke="#111" stroke-width="0.3">5000</text>
<line x1="44.5" y1="517.3" x2="41.9" y2="517.3" stroke="#222" stroke-width="1.1"/>
<line x1="44.5" y1="490.02" x2="41.9" y2="490.02" stroke="#222" stroke-width="1.1"/>
<line x1="44.5" y1="462.74" x2="41.9" y2="462.74" stroke="#222" stroke-width="1.1"/>
<line x1="44.5" y1="435.46" x2="41.9" y2="435.46" stroke="#222" stroke-width="1.1"/>
<line x1="44.5" y1="408.18" x2="41.9" y2="408.18" stroke="#222" stroke-width="1.1"/>
<line x1="44.5" y1="380.9" x2="41.9" y2="380.9" stroke="#222" stroke-width="1.1"/>
<line x1="44.5" y1="503.66" x2="42.9" y2="503.66" stroke="#222" stroke-width="1.1"/>
<line x1="44.5" y1="476.38" x2="42.9" y2="476.38" stroke="#222" stroke-width="1.1"/>
<line x1="44.5" y1="449.1" x2="42.9" y2="449.1" stroke="#222" stroke-width="1.1"/>
<line x1="44.5" y1="421.82" x2="42.9" y2="421.82" stroke="#222" stroke-width="1.1"/>
<line x1="44.5" y1="394.54" x2="42.9" y2="394.54" stroke="#222" stroke-width="1.1"/>
<text x="40" y="520.9" font-size="10" text-anchor="end" fill="#111"  stroke="#111" stroke-width="0.3">0</text>
<text x="40" y="493.62" font-size="10" text-anchor="end" fill="#111"  stroke="#111" stroke-width="0.3">20</text>
<text x="40" y="466.34" font-size="10" text-anchor="end" fill="#111"  stroke="#111" stroke-width="0.3">40</text>
<text x="40" y="439.06" font-size="10" text-anchor="end" fill="#111"  stroke="#111" stroke-width="0.3">60</text>
<text x="40" y="411.78" font-size="10" text-anchor="end" fill="#111"  stroke="#111" stroke-width="0.3">80</text>
<text x="40" y="384.5" font-size="10" text-anchor="end" fill="#111"  stroke="#111" stroke-width="0.3">100</text>
<text x="140.4" y="545.4" font-size="11" text-anchor="middle" fill="#111"  stroke="#111" stroke-width="0.3">Cycle number</text>
<text x="19.3" y="446.4" font-size="11.1" text-anchor="middle" fill="#111" transform="rotate(-90 19.3 446.4)"  stroke="#111" stroke-width="0.3">Capacitance retention / %</text>
<text x="0" y="0" font-size="15.98" transform="translate(4.25 376) scale(1.060 1)" fill="#111" stroke="#111" stroke-width="0.3">(e)</text>
<line x1="236.2" y1="374.2" x2="236.2" y2="517.5" stroke="#3020c4" stroke-width="1.3"/>
<line x1="236.2" y1="517.3" x2="238.8" y2="517.3" stroke="#3020c4" stroke-width="1.1"/>
<line x1="236.2" y1="490.02" x2="238.8" y2="490.02" stroke="#3020c4" stroke-width="1.1"/>
<line x1="236.2" y1="462.74" x2="238.8" y2="462.74" stroke="#3020c4" stroke-width="1.1"/>
<line x1="236.2" y1="435.46" x2="238.8" y2="435.46" stroke="#3020c4" stroke-width="1.1"/>
<line x1="236.2" y1="408.18" x2="238.8" y2="408.18" stroke="#3020c4" stroke-width="1.1"/>
<line x1="236.2" y1="380.9" x2="238.8" y2="380.9" stroke="#3020c4" stroke-width="1.1"/>
<line x1="236.2" y1="503.66" x2="237.8" y2="503.66" stroke="#3020c4" stroke-width="1.1"/>
<line x1="236.2" y1="476.38" x2="237.8" y2="476.38" stroke="#3020c4" stroke-width="1.1"/>
<line x1="236.2" y1="449.1" x2="237.8" y2="449.1" stroke="#3020c4" stroke-width="1.1"/>
<line x1="236.2" y1="421.82" x2="237.8" y2="421.82" stroke="#3020c4" stroke-width="1.1"/>
<line x1="236.2" y1="394.54" x2="237.8" y2="394.54" stroke="#3020c4" stroke-width="1.1"/>
<text x="240" y="520.9" font-size="10" text-anchor="start" fill="#3020c4"  stroke="#3020c4" stroke-width="0.3">50</text>
<text x="240" y="493.62" font-size="10" text-anchor="start" fill="#3020c4"  stroke="#3020c4" stroke-width="0.3">70</text>
<text x="240" y="466.34" font-size="10" text-anchor="start" fill="#3020c4"  stroke="#3020c4" stroke-width="0.3">90</text>
<text x="240" y="439.06" font-size="10" text-anchor="start" fill="#3020c4"  stroke="#3020c4" stroke-width="0.3">110</text>
<text x="240" y="411.78" font-size="10" text-anchor="start" fill="#3020c4"  stroke="#3020c4" stroke-width="0.3">130</text>
<text x="240" y="384.5" font-size="10" text-anchor="start" fill="#3020c4"  stroke="#3020c4" stroke-width="0.3">150</text>
<text x="268.6" y="446.6" font-size="11.1" text-anchor="middle" fill="#3020c4" transform="rotate(-90 268.6 446.6)"  stroke="#3020c4" stroke-width="0.3">Coulombic efficiency / %</text>
<line x1="143" y1="472.6" x2="151.3" y2="472.6" stroke="#000" stroke-width="1.4"/>
<line x1="156.5" y1="472.6" x2="164.8" y2="472.6" stroke="#000" stroke-width="1.4"/>
<circle cx="153.9" cy="472.6" r="1.3" fill="#000"/>
<text x="167.4" y="476.1" font-size="9.5" text-anchor="start" fill="#111"  stroke="#111" stroke-width="0.3">GO/CDs/PPy-2</text>
<line x1="143" y1="484.8" x2="151.3" y2="484.8" stroke="#c01418" stroke-width="1.4"/>
<line x1="156.5" y1="484.8" x2="164.8" y2="484.8" stroke="#c01418" stroke-width="1.4"/>
<circle cx="153.9" cy="484.8" r="1.3" fill="#c01418"/>
<text x="167.4" y="488.3" font-size="9.5" text-anchor="start" fill="#111"  stroke="#111" stroke-width="0.3">GO/PPy</text>
<line x1="143" y1="497" x2="151.3" y2="497" stroke="#c614e6" stroke-width="1.4"/>
<line x1="156.5" y1="497" x2="164.8" y2="497" stroke="#c614e6" stroke-width="1.4"/>
<circle cx="153.9" cy="497" r="1.3" fill="#c614e6"/>
<text x="167.4" y="500.5" font-size="9.5" text-anchor="start" fill="#111"  stroke="#111" stroke-width="0.3">CDs/PPy</text>
<line x1="143" y1="509.2" x2="151.3" y2="509.2" stroke="#1e00d8" stroke-width="1.4"/>
<line x1="156.5" y1="509.2" x2="164.8" y2="509.2" stroke="#1e00d8" stroke-width="1.4"/>
<path d="M153.9,507.5 l1.5,2.6 h-3z" fill="#1e00d8"/>
<text x="167.4" y="512.7" font-size="9.5" text-anchor="start" fill="#111"  stroke="#111" stroke-width="0.3">PPy</text>
<polyline points="309.5,516.5 309.67,515.04 310.17,513.6 310.99,512.21 312.13,510.9 313.55,509.68 315.24,508.58 317.17,507.61 319.3,506.8 321.6,506.15 324.03,505.68 326.54,505.4 329.1,505.3 331.66,505.4 334.17,505.68 336.6,506.15 338.9,506.8 341.03,507.61 342.96,508.58 344.65,509.68 346.07,510.9 347.21,512.21 348.03,513.6 348.53,515.04 348.7,516.5" fill="none" stroke="#1e00d8" stroke-width="2.6" stroke-linejoin="round"/>
<polyline points="309,516.5 309.15,514.99 309.62,513.5 310.37,512.06 311.42,510.7 312.73,509.44 314.29,508.3 316.06,507.3 318.02,506.45 320.14,505.78 322.38,505.3 324.69,505 327.05,504.9 329.41,505 331.72,505.3 333.96,505.78 336.07,506.45 338.04,507.3 339.81,508.3 341.37,509.44 342.68,510.7 343.73,512.06 344.48,513.5 344.95,514.99 345.1,516.5" fill="none" stroke="#c614e6" stroke-width="2.6" stroke-linejoin="round"/>
<polyline points="348.4,514.6 352.2,510.5 357.9,499.1 363.7,480 369.4,460.9 374.2,447.5 379.8,427.6" fill="none" stroke="#1e00d8" stroke-width="1.1" stroke-linejoin="round"/>
<path d="M379.8,425.8 l1.6,2.7 h-3.2z" fill="#1e00d8"/>
<path d="M376.55,437.35 l1.6,2.7 h-3.2z" fill="#1e00d8"/>
<path d="M373.69,447.14 l1.6,2.7 h-3.2z" fill="#1e00d8"/>
<path d="M370.76,455.3 l1.6,2.7 h-3.2z" fill="#1e00d8"/>
<path d="M368.45,462.29 l1.6,2.7 h-3.2z" fill="#1e00d8"/>
<path d="M366.66,468.3 l1.6,2.7 h-3.2z" fill="#1e00d8"/>
<path d="M365.13,473.4 l1.6,2.7 h-3.2z" fill="#1e00d8"/>
<path d="M363.84,477.74 l1.6,2.7 h-3.2z" fill="#1e00d8"/>
<path d="M362.72,481.42 l1.6,2.7 h-3.2z" fill="#1e00d8"/>
<path d="M361.77,484.55 l1.6,2.7 h-3.2z" fill="#1e00d8"/>
<path d="M360.97,487.2 l1.6,2.7 h-3.2z" fill="#1e00d8"/>
<path d="M360.24,489.6 l1.6,2.7 h-3.2z" fill="#1e00d8"/>
<path d="M359.51,491.99 l1.6,2.7 h-3.2z" fill="#1e00d8"/>
<path d="M358.79,494.38 l1.6,2.7 h-3.2z" fill="#1e00d8"/>
<path d="M358.06,496.77 l1.6,2.7 h-3.2z" fill="#1e00d8"/>
<path d="M357.03,499.04 l1.6,2.7 h-3.2z" fill="#1e00d8"/>
<path d="M355.91,501.28 l1.6,2.7 h-3.2z" fill="#1e00d8"/>
<path d="M354.79,503.52 l1.6,2.7 h-3.2z" fill="#1e00d8"/>
<path d="M353.67,505.75 l1.6,2.7 h-3.2z" fill="#1e00d8"/>
<path d="M352.56,507.99 l1.6,2.7 h-3.2z" fill="#1e00d8"/>
<path d="M351.04,509.95 l1.6,2.7 h-3.2z" fill="#1e00d8"/>
<path d="M349.34,511.78 l1.6,2.7 h-3.2z" fill="#1e00d8"/>
<polyline points="343.8,513.6 348.4,506.7 352.2,495.3 356,480 359.8,464.7 365.6,443.7 370.8,419.6" fill="none" stroke="#c614e6" stroke-width="1.1" stroke-linejoin="round"/>
<circle cx="370.8" cy="419.6" r="1.25" fill="#c614e6"/>
<circle cx="368.27" cy="431.33" r="1.25" fill="#c614e6"/>
<circle cx="366.12" cy="441.3" r="1.25" fill="#c614e6"/>
<circle cx="363.95" cy="449.69" r="1.25" fill="#c614e6"/>
<circle cx="361.98" cy="456.79" r="1.25" fill="#c614e6"/>
<circle cx="360.32" cy="462.83" r="1.25" fill="#c614e6"/>
<circle cx="358.98" cy="467.99" r="1.25" fill="#c614e6"/>
<circle cx="357.89" cy="472.38" r="1.25" fill="#c614e6"/>
<circle cx="356.97" cy="476.11" r="1.25" fill="#c614e6"/>
<circle cx="356.18" cy="479.29" r="1.25" fill="#c614e6"/>
<circle cx="355.51" cy="481.98" r="1.25" fill="#c614e6"/>
<circle cx="354.9" cy="484.41" r="1.25" fill="#c614e6"/>
<circle cx="354.3" cy="486.84" r="1.25" fill="#c614e6"/>
<circle cx="353.7" cy="489.26" r="1.25" fill="#c614e6"/>
<circle cx="353.1" cy="491.69" r="1.25" fill="#c614e6"/>
<circle cx="352.49" cy="494.12" r="1.25" fill="#c614e6"/>
<circle cx="351.8" cy="496.51" r="1.25" fill="#c614e6"/>
<circle cx="351" cy="498.89" r="1.25" fill="#c614e6"/>
<circle cx="350.21" cy="501.26" r="1.25" fill="#c614e6"/>
<circle cx="349.42" cy="503.63" r="1.25" fill="#c614e6"/>
<circle cx="348.63" cy="506" r="1.25" fill="#c614e6"/>
<circle cx="347.42" cy="508.17" r="1.25" fill="#c614e6"/>
<circle cx="346.04" cy="510.25" r="1.25" fill="#c614e6"/>
<circle cx="344.65" cy="512.33" r="1.25" fill="#c614e6"/>
<polyline points="319.6,516.9 321.5,512 324.9,507.4 327.5,510 329.7,513.4 331.5,505.4 333.2,490 335,478 339.8,415 342.4,394.2" fill="none" stroke="#c01418" stroke-width="1.1" stroke-linejoin="round"/>
<circle cx="342.4" cy="394.2" r="1.35" fill="#c01418"/>
<circle cx="340.73" cy="407.6" r="1.35" fill="#c01418"/>
<circle cx="339.44" cy="419.67" r="1.35" fill="#c01418"/>
<circle cx="338.61" cy="430.58" r="1.35" fill="#c01418"/>
<circle cx="337.87" cy="440.39" r="1.35" fill="#c01418"/>
<circle cx="337.19" cy="449.22" r="1.35" fill="#c01418"/>
<circle cx="336.59" cy="457.17" r="1.35" fill="#c01418"/>
<circle cx="336.04" cy="464.33" r="1.35" fill="#c01418"/>
<circle cx="335.55" cy="470.76" r="1.35" fill="#c01418"/>
<circle cx="335.11" cy="476.56" r="1.35" fill="#c01418"/>
<circle cx="334.44" cy="481.74" r="1.35" fill="#c01418"/>
<circle cx="333.74" cy="486.4" r="1.35" fill="#c01418"/>
<circle cx="333.13" cy="490.59" r="1.35" fill="#c01418"/>
<circle cx="332.72" cy="494.38" r="1.35" fill="#c01418"/>
<circle cx="332.34" cy="497.79" r="1.35" fill="#c01418"/>
<circle cx="332" cy="500.86" r="1.35" fill="#c01418"/>
<circle cx="331.7" cy="503.62" r="1.35" fill="#c01418"/>
<circle cx="331.34" cy="506.1" r="1.35" fill="#c01418"/>
<circle cx="330.85" cy="508.29" r="1.35" fill="#c01418"/>
<circle cx="330.37" cy="510.44" r="1.35" fill="#c01418"/>
<circle cx="329.88" cy="512.59" r="1.35" fill="#c01418"/>
<circle cx="328.96" cy="512.25" r="1.35" fill="#c01418"/>
<circle cx="327.76" cy="510.41" r="1.35" fill="#c01418"/>
<circle cx="326.29" cy="508.79" r="1.35" fill="#c01418"/>
<circle cx="324.76" cy="507.59" r="1.35" fill="#c01418"/>
<circle cx="323.45" cy="509.36" r="1.35" fill="#c01418"/>
<circle cx="322.14" cy="511.13" r="1.35" fill="#c01418"/>
<circle cx="321.1" cy="513.04" r="1.35" fill="#c01418"/>
<circle cx="320.3" cy="515.09" r="1.35" fill="#c01418"/>
<polyline points="319.6,516.9 321.5,512 324.9,507.4 327.5,510 329.7,513.4 331.2,507" fill="none" stroke="#c01418" stroke-width="2.6" stroke-linejoin="round"/>
<polyline points="308.3,517 309.5,513.5 311.3,511.9 313.2,512.6 314.9,515.2 317.2,507.8 318.4,497.1 319.6,490 324.2,428.5" fill="none" stroke="#000" stroke-width="1.1" stroke-linejoin="round"/>
<circle cx="324.2" cy="428.5" r="1.3" fill="#000"/>
<circle cx="323.45" cy="438.47" r="1.3" fill="#000"/>
<circle cx="322.8" cy="447.25" r="1.3" fill="#000"/>
<circle cx="322.22" cy="454.97" r="1.3" fill="#000"/>
<circle cx="321.71" cy="461.77" r="1.3" fill="#000"/>
<circle cx="321.26" cy="467.75" r="1.3" fill="#000"/>
<circle cx="320.87" cy="473.01" r="1.3" fill="#000"/>
<circle cx="320.52" cy="477.64" r="1.3" fill="#000"/>
<circle cx="320.22" cy="481.72" r="1.3" fill="#000"/>
<circle cx="319.95" cy="485.3" r="1.3" fill="#000"/>
<circle cx="319.72" cy="488.46" r="1.3" fill="#000"/>
<circle cx="319.39" cy="491.22" r="1.3" fill="#000"/>
<circle cx="318.99" cy="493.64" r="1.3" fill="#000"/>
<circle cx="318.62" cy="495.81" r="1.3" fill="#000"/>
<circle cx="318.3" cy="497.98" r="1.3" fill="#000"/>
<circle cx="318.06" cy="500.17" r="1.3" fill="#000"/>
<circle cx="317.81" cy="502.36" r="1.3" fill="#000"/>
<circle cx="317.57" cy="504.54" r="1.3" fill="#000"/>
<circle cx="317.32" cy="506.73" r="1.3" fill="#000"/>
<circle cx="316.87" cy="508.87" r="1.3" fill="#000"/>
<circle cx="316.21" cy="510.97" r="1.3" fill="#000"/>
<circle cx="315.56" cy="513.07" r="1.3" fill="#000"/>
<circle cx="314.91" cy="515.17" r="1.3" fill="#000"/>
<circle cx="313.71" cy="513.38" r="1.3" fill="#000"/>
<circle cx="312.01" cy="512.16" r="1.3" fill="#000"/>
<circle cx="310.22" cy="512.86" r="1.3" fill="#000"/>
<circle cx="309.1" cy="514.67" r="1.3" fill="#000"/>
<circle cx="308.39" cy="516.75" r="1.3" fill="#000"/>
<polyline points="308.3,517 309.5,513.5 311.3,511.9 313.2,512.6 314.9,515.2 316.2,511" fill="none" stroke="#000" stroke-width="2.6" stroke-linejoin="round"/>
<rect x="306.4" y="374.8" width="191.4" height="142.8" fill="none" stroke="#222" stroke-width="1.2"/>
<line x1="306.6" y1="517.6" x2="306.6" y2="520.2" stroke="#222" stroke-width="1.1"/>
<line x1="344.8" y1="517.6" x2="344.8" y2="520.2" stroke="#222" stroke-width="1.1"/>
<line x1="383" y1="517.6" x2="383" y2="520.2" stroke="#222" stroke-width="1.1"/>
<line x1="421.2" y1="517.6" x2="421.2" y2="520.2" stroke="#222" stroke-width="1.1"/>
<line x1="459.4" y1="517.6" x2="459.4" y2="520.2" stroke="#222" stroke-width="1.1"/>
<line x1="497.6" y1="517.6" x2="497.6" y2="520.2" stroke="#222" stroke-width="1.1"/>
<line x1="325.7" y1="517.6" x2="325.7" y2="519.2" stroke="#222" stroke-width="1.1"/>
<line x1="363.9" y1="517.6" x2="363.9" y2="519.2" stroke="#222" stroke-width="1.1"/>
<line x1="402.1" y1="517.6" x2="402.1" y2="519.2" stroke="#222" stroke-width="1.1"/>
<line x1="440.3" y1="517.6" x2="440.3" y2="519.2" stroke="#222" stroke-width="1.1"/>
<line x1="478.5" y1="517.6" x2="478.5" y2="519.2" stroke="#222" stroke-width="1.1"/>
<text x="306.6" y="530.5" font-size="10" text-anchor="middle" fill="#111"  stroke="#111" stroke-width="0.3">0</text>
<text x="344.8" y="530.5" font-size="10" text-anchor="middle" fill="#111"  stroke="#111" stroke-width="0.3">10</text>
<text x="383" y="530.5" font-size="10" text-anchor="middle" fill="#111"  stroke="#111" stroke-width="0.3">20</text>
<text x="421.2" y="530.5" font-size="10" text-anchor="middle" fill="#111"  stroke="#111" stroke-width="0.3">30</text>
<text x="459.4" y="530.5" font-size="10" text-anchor="middle" fill="#111"  stroke="#111" stroke-width="0.3">40</text>
<text x="497.6" y="530.5" font-size="10" text-anchor="middle" fill="#111"  stroke="#111" stroke-width="0.3">50</text>
<line x1="306.4" y1="517.4" x2="303.8" y2="517.4" stroke="#222" stroke-width="1.1"/>
<line x1="306.4" y1="488.88" x2="303.8" y2="488.88" stroke="#222" stroke-width="1.1"/>
<line x1="306.4" y1="460.36" x2="303.8" y2="460.36" stroke="#222" stroke-width="1.1"/>
<line x1="306.4" y1="431.84" x2="303.8" y2="431.84" stroke="#222" stroke-width="1.1"/>
<line x1="306.4" y1="403.32" x2="303.8" y2="403.32" stroke="#222" stroke-width="1.1"/>
<line x1="306.4" y1="374.8" x2="303.8" y2="374.8" stroke="#222" stroke-width="1.1"/>
<line x1="306.4" y1="503.14" x2="304.8" y2="503.14" stroke="#222" stroke-width="1.1"/>
<line x1="306.4" y1="474.62" x2="304.8" y2="474.62" stroke="#222" stroke-width="1.1"/>
<line x1="306.4" y1="446.1" x2="304.8" y2="446.1" stroke="#222" stroke-width="1.1"/>
<line x1="306.4" y1="417.58" x2="304.8" y2="417.58" stroke="#222" stroke-width="1.1"/>
<line x1="306.4" y1="389.06" x2="304.8" y2="389.06" stroke="#222" stroke-width="1.1"/>
<text x="302" y="521" font-size="10" text-anchor="end" fill="#111"  stroke="#111" stroke-width="0.3">0</text>
<text x="302" y="492.48" font-size="10" text-anchor="end" fill="#111"  stroke="#111" stroke-width="0.3">10</text>
<text x="302" y="463.96" font-size="10" text-anchor="end" fill="#111"  stroke="#111" stroke-width="0.3">20</text>
<text x="302" y="435.44" font-size="10" text-anchor="end" fill="#111"  stroke="#111" stroke-width="0.3">30</text>
<text x="302" y="406.92" font-size="10" text-anchor="end" fill="#111"  stroke="#111" stroke-width="0.3">40</text>
<text x="302" y="378.4" font-size="10" text-anchor="end" fill="#111"  stroke="#111" stroke-width="0.3">50</text>
<text x="401.9" y="544.4" font-size="10.8" text-anchor="middle" fill="#111"  stroke="#111" stroke-width="0.3">Z' / ohm</text>
<text x="285.3" y="448.3" font-size="11" text-anchor="middle" fill="#111" transform="rotate(-90 285.3 448.3)"  stroke="#111" stroke-width="0.3">-Z'' / ohm</text>
<text x="0" y="0" font-size="15.98" transform="translate(266.15 376) scale(1.069 1)" fill="#111" stroke="#111" stroke-width="0.3">(f)</text>
<line x1="405" y1="472.6" x2="413.4" y2="472.6" stroke="#000" stroke-width="1.4"/>
<line x1="418.6" y1="472.6" x2="427" y2="472.6" stroke="#000" stroke-width="1.4"/>
<circle cx="416" cy="472.6" r="1.3" fill="#000"/>
<text x="429.5" y="476.1" font-size="9.5" text-anchor="start" fill="#111"  stroke="#111" stroke-width="0.3">GO/CDs/PPy-2</text>
<line x1="405" y1="484.8" x2="413.4" y2="484.8" stroke="#c01418" stroke-width="1.4"/>
<line x1="418.6" y1="484.8" x2="427" y2="484.8" stroke="#c01418" stroke-width="1.4"/>
<circle cx="416" cy="484.8" r="1.3" fill="#c01418"/>
<text x="429.5" y="488.3" font-size="9.5" text-anchor="start" fill="#111"  stroke="#111" stroke-width="0.3">GO/PPy</text>
<line x1="405" y1="497" x2="413.4" y2="497" stroke="#c614e6" stroke-width="1.4"/>
<line x1="418.6" y1="497" x2="427" y2="497" stroke="#c614e6" stroke-width="1.4"/>
<circle cx="416" cy="497" r="1.3" fill="#c614e6"/>
<text x="429.5" y="500.5" font-size="9.5" text-anchor="start" fill="#111"  stroke="#111" stroke-width="0.3">CDs/PPy</text>
<line x1="405" y1="509.2" x2="413.4" y2="509.2" stroke="#1e00d8" stroke-width="1.4"/>
<line x1="418.6" y1="509.2" x2="427" y2="509.2" stroke="#1e00d8" stroke-width="1.4"/>
<path d="M416,507.5 l1.5,2.6 h-3z" fill="#1e00d8"/>
<text x="429.5" y="512.7" font-size="9.5" text-anchor="start" fill="#111"  stroke="#111" stroke-width="0.3">PPy</text>
<line x1="377.7" y1="408.8" x2="388.5" y2="408.8" stroke="#111" stroke-width="1.7"/>
<rect x="388.5" y="404.4" width="21.3" height="9" fill="#d9d9d9" stroke="#111" stroke-width="1.7"/>
<line x1="409.8" y1="408.8" x2="416.2" y2="408.8" stroke="#111" stroke-width="1.7"/>
<line x1="416.2" y1="396.7" x2="416.2" y2="419.8" stroke="#111" stroke-width="1.7"/>
<line x1="482.3" y1="396.7" x2="482.3" y2="419.8" stroke="#111" stroke-width="1.7"/>
<line x1="482.3" y1="408.8" x2="495.9" y2="408.8" stroke="#111" stroke-width="1.7"/>
<line x1="416.2" y1="396.7" x2="448.2" y2="396.7" stroke="#111" stroke-width="1.7"/>
<line x1="455.1" y1="396.7" x2="482.3" y2="396.7" stroke="#111" stroke-width="1.7"/>
<line x1="448.2" y1="390" x2="448.2" y2="403.6" stroke="#111" stroke-width="1.8"/>
<line x1="455.1" y1="390" x2="455.1" y2="403.6" stroke="#111" stroke-width="1.8"/>
<line x1="416.2" y1="419.8" x2="421.4" y2="419.8" stroke="#111" stroke-width="1.7"/>
<rect x="421.4" y="415.2" width="20.6" height="9" fill="#d9d9d9" stroke="#111" stroke-width="1.7"/>
<line x1="442" y1="419.8" x2="451" y2="419.8" stroke="#111" stroke-width="1.7"/>
<rect x="451" y="415.5" width="24.3" height="8.6" fill="#c8c8c8"/>
<polyline points="451,419.8 453.5,419.8 456,415.8 459,423.8 462,415.8 465,423.8 468,415.8 471,423.8 473,419.8 475.3,419.8" fill="none" stroke="#111" stroke-width="1.6"/>
<line x1="475.3" y1="419.8" x2="482.3" y2="419.8" stroke="#111" stroke-width="1.7"/>
<text font-family="'Liberation Serif', serif" font-style="italic" font-weight="bold" font-size="9.6" fill="#111" stroke="#111" stroke-width="0.3"><tspan x="394.6" y="399.8">R</tspan><tspan font-size="7" font-style="normal" dy="1">s</tspan></text>
<text font-family="'Liberation Serif', serif" font-style="italic" font-weight="bold" font-size="9.6" fill="#111" stroke="#111" stroke-width="0.3"><tspan x="445.2" y="387">C</tspan><tspan font-size="7" font-style="normal" dy="1">dl</tspan></text>
<text font-family="'Liberation Serif', serif" font-style="italic" font-weight="bold" font-size="9.6" fill="#111" stroke="#111" stroke-width="0.3"><tspan x="427" y="433.3">R</tspan><tspan font-size="7" font-style="normal" dy="1">ct</tspan></text>
<text font-family="'Liberation Serif', serif" font-style="italic" font-weight="bold" font-size="9.6" fill="#111" stroke="#111" stroke-width="0.3"><tspan x="458.6" y="433.3">Z</tspan><tspan font-size="7" font-style="normal" dy="1">w</tspan></text>
</svg>
</body></html>
